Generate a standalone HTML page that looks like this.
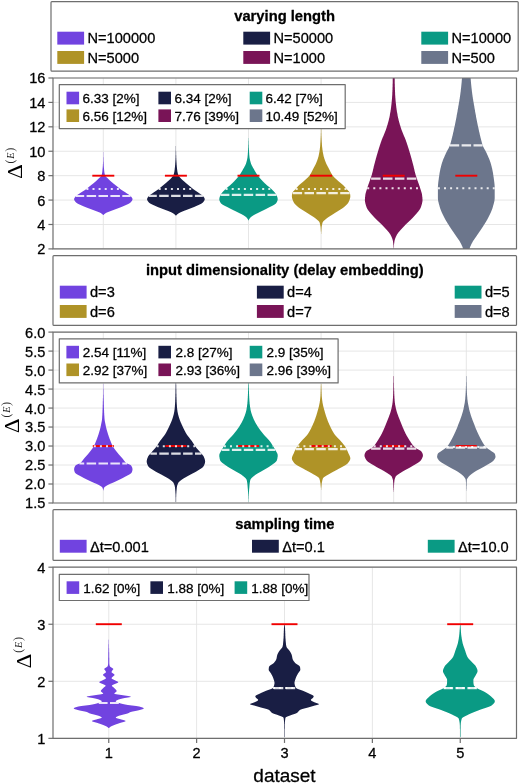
<!DOCTYPE html>
<html><head><meta charset="utf-8"><title>violin</title>
<style>html,body{margin:0;padding:0;background:#fff}svg{display:block}text{stroke:#000;stroke-width:.28px}.yl text{stroke:none}</style></head>
<body><svg width="520" height="783" viewBox="0 0 520 783" font-family='"Liberation Sans", Arial, Helvetica, sans-serif' stroke-linejoin="round">
<rect width="520" height="783" fill="#fff"/>
<defs>
<clipPath id="cp0"><rect x="53.0" y="78.0" width="463.5" height="170.9"/></clipPath>
<clipPath id="cp1"><rect x="53.0" y="332.1" width="463.5" height="170.89999999999998"/></clipPath>
<clipPath id="cp2"><rect x="53.0" y="567.2" width="463.5" height="171.14999999999998"/></clipPath>
</defs>
<rect x="51.0" y="1.6" width="467.20000000000005" height="69.60000000000001" rx="0.9" fill="#fff" stroke="#6e6e6e" stroke-width="1.2"/>
<text x="284.6" y="20.9" text-anchor="middle" font-size="14.75" font-weight="bold">varying length</text>
<rect x="57.3" y="31.7" width="26.8" height="12.9" fill="#7143E0"/>
<text x="87.5" y="43.4" font-size="14.6">N=100000</text>
<rect x="243.3" y="31.7" width="26.8" height="12.9" fill="#191E44"/>
<text x="273.5" y="43.4" font-size="14.6">N=50000</text>
<rect x="421.3" y="31.7" width="26.8" height="12.9" fill="#0A9A84"/>
<text x="451.5" y="43.4" font-size="14.6">N=10000</text>
<rect x="57.3" y="51.0" width="26.8" height="12.9" fill="#AF9327"/>
<text x="87.5" y="62.7" font-size="14.6">N=5000</text>
<rect x="243.3" y="51.0" width="26.8" height="12.9" fill="#791457"/>
<text x="273.5" y="62.7" font-size="14.6">N=1000</text>
<rect x="421.3" y="51.0" width="26.8" height="12.9" fill="#6C768C"/>
<text x="451.5" y="62.7" font-size="14.6">N=500</text>
<rect x="53.0" y="255.6" width="463.5" height="69.70000000000002" rx="0.9" fill="#fff" stroke="#6e6e6e" stroke-width="1.2"/>
<text x="284.8" y="274.9" text-anchor="middle" font-size="14.75" font-weight="bold">input dimensionality (delay embedding)</text>
<rect x="59.8" y="285.7" width="26.8" height="12.9" fill="#7143E0"/>
<text x="90.0" y="297.4" font-size="14.6">d=3</text>
<rect x="256.9" y="285.7" width="26.8" height="12.9" fill="#191E44"/>
<text x="287.1" y="297.4" font-size="14.6">d=4</text>
<rect x="454.7" y="285.7" width="26.8" height="12.9" fill="#0A9A84"/>
<text x="484.9" y="297.4" font-size="14.6">d=5</text>
<rect x="59.8" y="305.0" width="26.8" height="12.9" fill="#AF9327"/>
<text x="90.0" y="316.7" font-size="14.6">d=6</text>
<rect x="256.9" y="305.0" width="26.8" height="12.9" fill="#791457"/>
<text x="287.1" y="316.7" font-size="14.6">d=7</text>
<rect x="454.7" y="305.0" width="26.8" height="12.9" fill="#6C768C"/>
<text x="484.9" y="316.7" font-size="14.6">d=8</text>
<rect x="53.0" y="509.7" width="463.5" height="50.69999999999999" rx="0.9" fill="#fff" stroke="#6e6e6e" stroke-width="1.2"/>
<text x="284.8" y="529.0" text-anchor="middle" font-size="14.75" font-weight="bold">sampling time</text>
<rect x="59.8" y="539.8" width="26.8" height="12.9" fill="#7143E0"/>
<text x="90.0" y="551.5" font-size="14.6">Δt=0.001</text>
<rect x="252.0" y="539.8" width="26.8" height="12.9" fill="#191E44"/>
<text x="282.2" y="551.5" font-size="14.6">Δt=0.1</text>
<rect x="427.8" y="539.8" width="26.8" height="12.9" fill="#0A9A84"/>
<text x="458.0" y="551.5" font-size="14.6">Δt=10.0</text>
<line x1="103.30" y1="78.0" x2="103.30" y2="248.9" stroke="#e3e3e3" stroke-width="0.9"/>
<line x1="175.90" y1="78.0" x2="175.90" y2="248.9" stroke="#e3e3e3" stroke-width="0.9"/>
<line x1="248.50" y1="78.0" x2="248.50" y2="248.9" stroke="#e3e3e3" stroke-width="0.9"/>
<line x1="321.10" y1="78.0" x2="321.10" y2="248.9" stroke="#e3e3e3" stroke-width="0.9"/>
<line x1="393.70" y1="78.0" x2="393.70" y2="248.9" stroke="#e3e3e3" stroke-width="0.9"/>
<line x1="466.30" y1="78.0" x2="466.30" y2="248.9" stroke="#e3e3e3" stroke-width="0.9"/>
<line x1="53.0" y1="248.90" x2="516.5" y2="248.90" stroke="#e3e3e3" stroke-width="0.9"/>
<line x1="53.0" y1="224.49" x2="516.5" y2="224.49" stroke="#e3e3e3" stroke-width="0.9"/>
<line x1="53.0" y1="200.07" x2="516.5" y2="200.07" stroke="#e3e3e3" stroke-width="0.9"/>
<line x1="53.0" y1="175.66" x2="516.5" y2="175.66" stroke="#e3e3e3" stroke-width="0.9"/>
<line x1="53.0" y1="151.24" x2="516.5" y2="151.24" stroke="#e3e3e3" stroke-width="0.9"/>
<line x1="53.0" y1="126.83" x2="516.5" y2="126.83" stroke="#e3e3e3" stroke-width="0.9"/>
<line x1="53.0" y1="102.41" x2="516.5" y2="102.41" stroke="#e3e3e3" stroke-width="0.9"/>
<line x1="53.0" y1="78.00" x2="516.5" y2="78.00" stroke="#e3e3e3" stroke-width="0.9"/>
<g clip-path="url(#cp0)">
<path d="M103.2,152.0 L103.2,152.5 L103.2,153.0 L103.2,153.5 L103.2,154.0 L103.2,154.5 L103.2,155.0 L103.2,155.5 L103.2,156.0 L103.2,156.5 L103.2,157.0 L103.1,157.5 L103.1,158.0 L103.1,158.5 L103.1,159.0 L103.1,159.5 L103.1,160.0 L103.1,160.5 L103.1,161.0 L103.1,161.5 L103.0,162.0 L103.0,162.5 L103.0,163.0 L103.0,163.5 L102.9,164.0 L102.9,164.5 L102.9,165.0 L102.9,165.5 L102.8,166.0 L102.8,166.5 L102.8,167.0 L102.7,167.5 L102.7,168.0 L102.6,168.5 L102.6,169.0 L102.5,169.5 L102.5,170.0 L102.4,170.5 L102.4,171.0 L102.3,171.5 L102.3,172.0 L102.2,172.5 L102.1,173.0 L102.0,173.5 L101.9,174.0 L101.8,174.5 L101.7,175.0 L101.5,175.5 L101.2,176.0 L100.9,176.5 L100.4,177.0 L99.8,177.5 L99.2,178.0 L98.7,178.5 L98.2,179.0 L97.7,179.5 L97.2,180.0 L96.7,180.5 L96.1,181.0 L95.6,181.5 L95.0,182.0 L94.4,182.5 L93.8,183.0 L93.2,183.5 L92.6,184.0 L91.9,184.5 L91.3,185.0 L90.7,185.5 L90.0,186.0 L89.4,186.5 L88.8,187.0 L88.2,187.5 L87.6,188.0 L87.0,188.5 L86.4,189.0 L85.7,189.5 L85.0,190.0 L84.2,190.5 L83.4,191.0 L82.6,191.5 L81.8,192.0 L81.0,192.5 L80.3,193.0 L79.6,193.5 L78.8,194.0 L78.0,194.5 L77.3,195.0 L76.6,195.5 L76.1,196.0 L75.6,196.5 L75.2,197.0 L74.8,197.5 L74.5,198.0 L74.2,198.5 L74.1,199.0 L74.1,199.5 L74.3,200.0 L74.5,200.5 L74.8,201.0 L75.2,201.5 L75.6,202.0 L76.1,202.5 L76.7,203.0 L77.5,203.5 L78.4,204.0 L79.5,204.5 L80.6,205.0 L81.7,205.5 L82.9,206.0 L84.0,206.5 L85.2,207.0 L86.5,207.5 L87.8,208.0 L89.1,208.5 L90.5,209.0 L91.8,209.5 L93.1,210.0 L94.5,210.5 L95.8,211.0 L97.1,211.5 L98.4,212.0 L99.7,212.5 L100.7,213.0 L101.4,213.5 L102.1,214.0 L102.7,214.5 L103.0,215.0 L103.6,215.0 L103.9,214.5 L104.5,214.0 L105.2,213.5 L105.9,213.0 L106.9,212.5 L108.2,212.0 L109.5,211.5 L110.8,211.0 L112.1,210.5 L113.5,210.0 L114.8,209.5 L116.1,209.0 L117.5,208.5 L118.8,208.0 L120.1,207.5 L121.4,207.0 L122.6,206.5 L123.7,206.0 L124.9,205.5 L126.0,205.0 L127.1,204.5 L128.2,204.0 L129.1,203.5 L129.9,203.0 L130.5,202.5 L131.0,202.0 L131.4,201.5 L131.8,201.0 L132.1,200.5 L132.3,200.0 L132.5,199.5 L132.5,199.0 L132.4,198.5 L132.1,198.0 L131.8,197.5 L131.4,197.0 L131.0,196.5 L130.5,196.0 L130.0,195.5 L129.3,195.0 L128.6,194.5 L127.8,194.0 L127.0,193.5 L126.3,193.0 L125.6,192.5 L124.8,192.0 L124.0,191.5 L123.2,191.0 L122.4,190.5 L121.6,190.0 L120.9,189.5 L120.2,189.0 L119.6,188.5 L119.0,188.0 L118.4,187.5 L117.8,187.0 L117.2,186.5 L116.6,186.0 L115.9,185.5 L115.3,185.0 L114.7,184.5 L114.0,184.0 L113.4,183.5 L112.8,183.0 L112.2,182.5 L111.6,182.0 L111.0,181.5 L110.5,181.0 L109.9,180.5 L109.4,180.0 L108.9,179.5 L108.4,179.0 L107.9,178.5 L107.4,178.0 L106.8,177.5 L106.2,177.0 L105.7,176.5 L105.4,176.0 L105.1,175.5 L104.9,175.0 L104.8,174.5 L104.7,174.0 L104.6,173.5 L104.5,173.0 L104.4,172.5 L104.3,172.0 L104.3,171.5 L104.2,171.0 L104.2,170.5 L104.1,170.0 L104.1,169.5 L104.0,169.0 L104.0,168.5 L103.9,168.0 L103.9,167.5 L103.8,167.0 L103.8,166.5 L103.8,166.0 L103.7,165.5 L103.7,165.0 L103.7,164.5 L103.7,164.0 L103.6,163.5 L103.6,163.0 L103.6,162.5 L103.6,162.0 L103.5,161.5 L103.5,161.0 L103.5,160.5 L103.5,160.0 L103.5,159.5 L103.5,159.0 L103.5,158.5 L103.5,158.0 L103.5,157.5 L103.4,157.0 L103.4,156.5 L103.4,156.0 L103.4,155.5 L103.4,155.0 L103.4,154.5 L103.4,154.0 L103.4,153.5 L103.4,153.0 L103.4,152.5 L103.4,152.0Z" fill="#7143E0"/>
<path d="M175.8,146.0 L175.8,146.5 L175.8,147.0 L175.8,147.5 L175.8,148.0 L175.8,148.5 L175.8,149.0 L175.8,149.5 L175.8,150.0 L175.8,150.5 L175.7,151.0 L175.7,151.5 L175.7,152.0 L175.7,152.5 L175.7,153.0 L175.7,153.5 L175.7,154.0 L175.7,154.5 L175.7,155.0 L175.6,155.5 L175.6,156.0 L175.6,156.5 L175.6,157.0 L175.6,157.5 L175.6,158.0 L175.5,158.5 L175.5,159.0 L175.5,159.5 L175.5,160.0 L175.4,160.5 L175.4,161.0 L175.4,161.5 L175.3,162.0 L175.3,162.5 L175.3,163.0 L175.2,163.5 L175.2,164.0 L175.2,164.5 L175.1,165.0 L175.1,165.5 L175.0,166.0 L175.0,166.5 L175.0,167.0 L174.9,167.5 L174.8,168.0 L174.8,168.5 L174.7,169.0 L174.7,169.5 L174.6,170.0 L174.5,170.5 L174.5,171.0 L174.4,171.5 L174.3,172.0 L174.2,172.5 L174.1,173.0 L174.0,173.5 L173.8,174.0 L173.7,174.5 L173.5,175.0 L173.3,175.5 L173.0,176.0 L172.6,176.5 L172.2,177.0 L171.8,177.5 L171.3,178.0 L170.9,178.5 L170.4,179.0 L169.9,179.5 L169.3,180.0 L168.8,180.5 L168.2,181.0 L167.6,181.5 L167.0,182.0 L166.5,182.5 L165.9,183.0 L165.3,183.5 L164.7,184.0 L164.1,184.5 L163.5,185.0 L162.9,185.5 L162.3,186.0 L161.7,186.5 L161.1,187.0 L160.5,187.5 L159.9,188.0 L159.3,188.5 L158.7,189.0 L158.0,189.5 L157.3,190.0 L156.6,190.5 L155.8,191.0 L155.1,191.5 L154.3,192.0 L153.6,192.5 L152.9,193.0 L152.2,193.5 L151.4,194.0 L150.7,194.5 L150.0,195.0 L149.4,195.5 L148.9,196.0 L148.5,196.5 L148.1,197.0 L147.7,197.5 L147.4,198.0 L147.2,198.5 L147.1,199.0 L147.1,199.5 L147.2,200.0 L147.5,200.5 L147.7,201.0 L148.1,201.5 L148.5,202.0 L148.9,202.5 L149.5,203.0 L150.2,203.5 L151.1,204.0 L152.2,204.5 L153.2,205.0 L154.4,205.5 L155.5,206.0 L156.6,206.5 L157.7,207.0 L159.0,207.5 L160.3,208.0 L161.6,208.5 L162.9,209.0 L164.2,209.5 L165.5,210.0 L166.9,210.5 L168.2,211.0 L169.4,211.5 L170.6,212.0 L171.7,212.5 L172.6,213.0 L173.4,213.5 L174.1,214.0 L174.7,214.5 L175.2,215.0 L175.6,215.5 L176.2,215.5 L176.6,215.0 L177.1,214.5 L177.7,214.0 L178.4,213.5 L179.2,213.0 L180.1,212.5 L181.2,212.0 L182.4,211.5 L183.6,211.0 L184.9,210.5 L186.3,210.0 L187.6,209.5 L188.9,209.0 L190.2,208.5 L191.5,208.0 L192.8,207.5 L194.1,207.0 L195.2,206.5 L196.3,206.0 L197.4,205.5 L198.6,205.0 L199.6,204.5 L200.7,204.0 L201.6,203.5 L202.3,203.0 L202.9,202.5 L203.3,202.0 L203.7,201.5 L204.1,201.0 L204.3,200.5 L204.6,200.0 L204.7,199.5 L204.7,199.0 L204.6,198.5 L204.4,198.0 L204.1,197.5 L203.7,197.0 L203.3,196.5 L202.9,196.0 L202.4,195.5 L201.8,195.0 L201.1,194.5 L200.4,194.0 L199.6,193.5 L198.9,193.0 L198.2,192.5 L197.5,192.0 L196.7,191.5 L196.0,191.0 L195.2,190.5 L194.5,190.0 L193.8,189.5 L193.1,189.0 L192.5,188.5 L191.9,188.0 L191.3,187.5 L190.7,187.0 L190.1,186.5 L189.5,186.0 L188.9,185.5 L188.3,185.0 L187.7,184.5 L187.1,184.0 L186.5,183.5 L185.9,183.0 L185.3,182.5 L184.8,182.0 L184.2,181.5 L183.6,181.0 L183.0,180.5 L182.5,180.0 L181.9,179.5 L181.4,179.0 L180.9,178.5 L180.5,178.0 L180.0,177.5 L179.6,177.0 L179.2,176.5 L178.8,176.0 L178.5,175.5 L178.3,175.0 L178.1,174.5 L178.0,174.0 L177.8,173.5 L177.7,173.0 L177.6,172.5 L177.5,172.0 L177.4,171.5 L177.3,171.0 L177.3,170.5 L177.2,170.0 L177.1,169.5 L177.1,169.0 L177.0,168.5 L177.0,168.0 L176.9,167.5 L176.8,167.0 L176.8,166.5 L176.8,166.0 L176.7,165.5 L176.7,165.0 L176.6,164.5 L176.6,164.0 L176.6,163.5 L176.5,163.0 L176.5,162.5 L176.5,162.0 L176.4,161.5 L176.4,161.0 L176.4,160.5 L176.3,160.0 L176.3,159.5 L176.3,159.0 L176.3,158.5 L176.2,158.0 L176.2,157.5 L176.2,157.0 L176.2,156.5 L176.2,156.0 L176.2,155.5 L176.1,155.0 L176.1,154.5 L176.1,154.0 L176.1,153.5 L176.1,153.0 L176.1,152.5 L176.1,152.0 L176.1,151.5 L176.1,151.0 L176.0,150.5 L176.0,150.0 L176.0,149.5 L176.0,149.0 L176.0,148.5 L176.0,148.0 L176.0,147.5 L176.0,147.0 L176.0,146.5 L176.0,146.0Z" fill="#191E44"/>
<path d="M248.4,138.0 L248.4,138.5 L248.4,139.0 L248.4,139.5 L248.4,140.0 L248.4,140.5 L248.3,141.0 L248.3,141.5 L248.3,142.0 L248.3,142.5 L248.3,143.0 L248.3,143.5 L248.3,144.0 L248.3,144.5 L248.2,145.0 L248.2,145.5 L248.2,146.0 L248.2,146.5 L248.2,147.0 L248.2,147.5 L248.1,148.0 L248.1,148.5 L248.1,149.0 L248.1,149.5 L248.0,150.0 L248.0,150.5 L248.0,151.0 L248.0,151.5 L247.9,152.0 L247.9,152.5 L247.9,153.0 L247.8,153.5 L247.8,154.0 L247.8,154.5 L247.7,155.0 L247.7,155.5 L247.6,156.0 L247.6,156.5 L247.5,157.0 L247.5,157.5 L247.4,158.0 L247.3,158.5 L247.2,159.0 L247.1,159.5 L247.0,160.0 L246.9,160.5 L246.7,161.0 L246.6,161.5 L246.5,162.0 L246.3,162.5 L246.2,163.0 L246.0,163.5 L245.9,164.0 L245.6,164.5 L245.4,165.0 L245.2,165.5 L244.9,166.0 L244.6,166.5 L244.4,167.0 L244.1,167.5 L243.8,168.0 L243.5,168.5 L243.2,169.0 L242.9,169.5 L242.7,170.0 L242.4,170.5 L242.1,171.0 L241.8,171.5 L241.5,172.0 L241.2,172.5 L240.9,173.0 L240.6,173.5 L240.3,174.0 L239.9,174.5 L239.6,175.0 L239.2,175.5 L238.9,176.0 L238.5,176.5 L238.1,177.0 L237.6,177.5 L237.2,178.0 L236.8,178.5 L236.3,179.0 L235.9,179.5 L235.4,180.0 L234.9,180.5 L234.5,181.0 L234.0,181.5 L233.5,182.0 L233.0,182.5 L232.5,183.0 L232.0,183.5 L231.4,184.0 L230.9,184.5 L230.4,185.0 L229.8,185.5 L229.2,186.0 L228.5,186.5 L227.9,187.0 L227.3,187.5 L226.7,188.0 L226.1,188.5 L225.6,189.0 L225.1,189.5 L224.6,190.0 L224.1,190.5 L223.6,191.0 L223.1,191.5 L222.7,192.0 L222.2,192.5 L221.8,193.0 L221.4,193.5 L221.1,194.0 L220.8,194.5 L220.6,195.0 L220.4,195.5 L220.2,196.0 L219.9,196.5 L219.7,197.0 L219.6,197.5 L219.4,198.0 L219.4,198.5 L219.3,199.0 L219.3,199.5 L219.4,200.0 L219.5,200.5 L219.7,201.0 L219.9,201.5 L220.2,202.0 L220.4,202.5 L220.7,203.0 L221.1,203.5 L221.7,204.0 L222.4,204.5 L223.2,205.0 L224.1,205.5 L225.1,206.0 L226.1,206.5 L227.2,207.0 L228.1,207.5 L229.1,208.0 L230.0,208.5 L231.0,209.0 L232.0,209.5 L233.0,210.0 L234.0,210.5 L235.1,211.0 L236.1,211.5 L237.1,212.0 L238.1,212.5 L239.1,213.0 L240.1,213.5 L241.2,214.0 L242.1,214.5 L243.0,215.0 L243.9,215.5 L244.6,216.0 L245.3,216.5 L246.0,217.0 L246.5,217.5 L247.0,218.0 L247.3,218.5 L247.7,219.0 L248.0,219.5 L248.2,220.0 L248.4,220.5 L248.6,220.5 L248.8,220.0 L249.0,219.5 L249.3,219.0 L249.7,218.5 L250.0,218.0 L250.5,217.5 L251.0,217.0 L251.7,216.5 L252.4,216.0 L253.1,215.5 L254.0,215.0 L254.9,214.5 L255.8,214.0 L256.9,213.5 L257.9,213.0 L258.9,212.5 L259.9,212.0 L260.9,211.5 L261.9,211.0 L263.0,210.5 L264.0,210.0 L265.0,209.5 L266.0,209.0 L267.0,208.5 L267.9,208.0 L268.9,207.5 L269.8,207.0 L270.9,206.5 L271.9,206.0 L272.9,205.5 L273.8,205.0 L274.6,204.5 L275.3,204.0 L275.9,203.5 L276.3,203.0 L276.6,202.5 L276.8,202.0 L277.1,201.5 L277.3,201.0 L277.5,200.5 L277.6,200.0 L277.7,199.5 L277.7,199.0 L277.6,198.5 L277.6,198.0 L277.4,197.5 L277.3,197.0 L277.1,196.5 L276.8,196.0 L276.6,195.5 L276.4,195.0 L276.2,194.5 L275.9,194.0 L275.6,193.5 L275.2,193.0 L274.8,192.5 L274.3,192.0 L273.9,191.5 L273.4,191.0 L272.9,190.5 L272.4,190.0 L271.9,189.5 L271.4,189.0 L270.9,188.5 L270.3,188.0 L269.7,187.5 L269.1,187.0 L268.5,186.5 L267.8,186.0 L267.2,185.5 L266.6,185.0 L266.1,184.5 L265.6,184.0 L265.0,183.5 L264.5,183.0 L264.0,182.5 L263.5,182.0 L263.0,181.5 L262.5,181.0 L262.1,180.5 L261.6,180.0 L261.1,179.5 L260.7,179.0 L260.2,178.5 L259.8,178.0 L259.4,177.5 L258.9,177.0 L258.5,176.5 L258.1,176.0 L257.8,175.5 L257.4,175.0 L257.1,174.5 L256.7,174.0 L256.4,173.5 L256.1,173.0 L255.8,172.5 L255.5,172.0 L255.2,171.5 L254.9,171.0 L254.6,170.5 L254.3,170.0 L254.1,169.5 L253.8,169.0 L253.5,168.5 L253.2,168.0 L252.9,167.5 L252.6,167.0 L252.4,166.5 L252.1,166.0 L251.8,165.5 L251.6,165.0 L251.4,164.5 L251.1,164.0 L251.0,163.5 L250.8,163.0 L250.7,162.5 L250.5,162.0 L250.4,161.5 L250.3,161.0 L250.1,160.5 L250.0,160.0 L249.9,159.5 L249.8,159.0 L249.7,158.5 L249.6,158.0 L249.5,157.5 L249.5,157.0 L249.4,156.5 L249.4,156.0 L249.3,155.5 L249.3,155.0 L249.2,154.5 L249.2,154.0 L249.2,153.5 L249.1,153.0 L249.1,152.5 L249.1,152.0 L249.0,151.5 L249.0,151.0 L249.0,150.5 L249.0,150.0 L248.9,149.5 L248.9,149.0 L248.9,148.5 L248.9,148.0 L248.8,147.5 L248.8,147.0 L248.8,146.5 L248.8,146.0 L248.8,145.5 L248.8,145.0 L248.7,144.5 L248.7,144.0 L248.7,143.5 L248.7,143.0 L248.7,142.5 L248.7,142.0 L248.7,141.5 L248.7,141.0 L248.6,140.5 L248.6,140.0 L248.6,139.5 L248.6,139.0 L248.6,138.5 L248.6,138.0Z" fill="#0A9A84"/>
<path d="M321.0,126.0 L321.0,126.5 L321.0,127.0 L321.0,127.5 L321.0,128.0 L321.0,128.5 L321.0,129.0 L320.9,129.5 L320.9,130.0 L320.9,130.5 L320.9,131.0 L320.9,131.5 L320.9,132.0 L320.9,132.5 L320.9,133.0 L320.8,133.5 L320.8,134.0 L320.8,134.5 L320.8,135.0 L320.8,135.5 L320.8,136.0 L320.7,136.5 L320.7,137.0 L320.7,137.5 L320.7,138.0 L320.6,138.5 L320.6,139.0 L320.6,139.5 L320.6,140.0 L320.5,140.5 L320.5,141.0 L320.5,141.5 L320.4,142.0 L320.4,142.5 L320.4,143.0 L320.3,143.5 L320.3,144.0 L320.3,144.5 L320.2,145.0 L320.2,145.5 L320.2,146.0 L320.1,146.5 L320.1,147.0 L320.0,147.5 L319.9,148.0 L319.9,148.5 L319.8,149.0 L319.8,149.5 L319.7,150.0 L319.6,150.5 L319.5,151.0 L319.5,151.5 L319.4,152.0 L319.3,152.5 L319.2,153.0 L319.1,153.5 L319.0,154.0 L318.9,154.5 L318.8,155.0 L318.7,155.5 L318.6,156.0 L318.5,156.5 L318.3,157.0 L318.2,157.5 L318.0,158.0 L317.9,158.5 L317.7,159.0 L317.5,159.5 L317.4,160.0 L317.2,160.5 L317.0,161.0 L316.8,161.5 L316.6,162.0 L316.4,162.5 L316.2,163.0 L316.0,163.5 L315.8,164.0 L315.5,164.5 L315.3,165.0 L315.0,165.5 L314.7,166.0 L314.5,166.5 L314.2,167.0 L313.9,167.5 L313.7,168.0 L313.4,168.5 L313.1,169.0 L312.9,169.5 L312.6,170.0 L312.4,170.5 L312.1,171.0 L311.9,171.5 L311.6,172.0 L311.4,172.5 L311.1,173.0 L310.8,173.5 L310.5,174.0 L310.2,174.5 L309.9,175.0 L309.5,175.5 L309.1,176.0 L308.7,176.5 L308.3,177.0 L307.8,177.5 L307.3,178.0 L306.7,178.5 L306.2,179.0 L305.6,179.5 L305.1,180.0 L304.5,180.5 L304.0,181.0 L303.4,181.5 L302.8,182.0 L302.2,182.5 L301.6,183.0 L301.0,183.5 L300.4,184.0 L299.8,184.5 L299.2,185.0 L298.7,185.5 L298.2,186.0 L297.8,186.5 L297.3,187.0 L296.9,187.5 L296.5,188.0 L296.0,188.5 L295.6,189.0 L295.2,189.5 L294.7,190.0 L294.2,190.5 L293.7,191.0 L293.2,191.5 L292.8,192.0 L292.5,192.5 L292.3,193.0 L292.2,193.5 L292.1,194.0 L292.0,194.5 L292.0,195.0 L291.9,195.5 L291.9,196.0 L291.9,196.5 L291.9,197.0 L292.0,197.5 L292.1,198.0 L292.2,198.5 L292.4,199.0 L292.5,199.5 L292.7,200.0 L292.9,200.5 L293.1,201.0 L293.3,201.5 L293.6,202.0 L293.8,202.5 L294.1,203.0 L294.5,203.5 L294.9,204.0 L295.4,204.5 L295.9,205.0 L296.4,205.5 L297.0,206.0 L297.5,206.5 L298.1,207.0 L298.7,207.5 L299.4,208.0 L300.1,208.5 L300.9,209.0 L301.7,209.5 L302.5,210.0 L303.3,210.5 L304.1,211.0 L304.9,211.5 L305.7,212.0 L306.5,212.5 L307.3,213.0 L308.1,213.5 L308.8,214.0 L309.6,214.5 L310.4,215.0 L311.2,215.5 L312.0,216.0 L312.8,216.5 L313.6,217.0 L314.3,217.5 L315.0,218.0 L315.6,218.5 L316.3,219.0 L316.8,219.5 L317.4,220.0 L318.0,220.5 L318.6,221.0 L319.0,221.5 L319.4,222.0 L319.6,222.5 L319.7,223.0 L319.9,223.5 L320.0,224.0 L320.1,224.5 L320.2,225.0 L320.3,225.5 L320.4,226.0 L320.5,226.5 L320.6,227.0 L320.6,227.5 L320.7,228.0 L320.7,228.5 L320.7,229.0 L320.8,229.5 L320.8,230.0 L320.8,230.5 L320.9,231.0 L320.9,231.5 L320.9,232.0 L321.0,232.5 L321.0,233.0 L321.0,233.5 L321.0,234.0 L321.2,234.0 L321.2,233.5 L321.2,233.0 L321.2,232.5 L321.3,232.0 L321.3,231.5 L321.3,231.0 L321.4,230.5 L321.4,230.0 L321.4,229.5 L321.5,229.0 L321.5,228.5 L321.5,228.0 L321.6,227.5 L321.6,227.0 L321.7,226.5 L321.8,226.0 L321.9,225.5 L322.0,225.0 L322.1,224.5 L322.2,224.0 L322.3,223.5 L322.5,223.0 L322.6,222.5 L322.8,222.0 L323.2,221.5 L323.6,221.0 L324.2,220.5 L324.8,220.0 L325.4,219.5 L325.9,219.0 L326.6,218.5 L327.2,218.0 L327.9,217.5 L328.6,217.0 L329.4,216.5 L330.2,216.0 L331.0,215.5 L331.8,215.0 L332.6,214.5 L333.4,214.0 L334.1,213.5 L334.9,213.0 L335.7,212.5 L336.5,212.0 L337.3,211.5 L338.1,211.0 L338.9,210.5 L339.7,210.0 L340.5,209.5 L341.3,209.0 L342.1,208.5 L342.8,208.0 L343.5,207.5 L344.1,207.0 L344.7,206.5 L345.2,206.0 L345.8,205.5 L346.3,205.0 L346.8,204.5 L347.3,204.0 L347.7,203.5 L348.1,203.0 L348.4,202.5 L348.6,202.0 L348.9,201.5 L349.1,201.0 L349.3,200.5 L349.5,200.0 L349.7,199.5 L349.8,199.0 L350.0,198.5 L350.1,198.0 L350.2,197.5 L350.3,197.0 L350.3,196.5 L350.3,196.0 L350.3,195.5 L350.2,195.0 L350.2,194.5 L350.1,194.0 L350.0,193.5 L349.9,193.0 L349.7,192.5 L349.4,192.0 L349.0,191.5 L348.5,191.0 L348.0,190.5 L347.5,190.0 L347.0,189.5 L346.6,189.0 L346.2,188.5 L345.7,188.0 L345.3,187.5 L344.9,187.0 L344.4,186.5 L344.0,186.0 L343.5,185.5 L343.0,185.0 L342.4,184.5 L341.8,184.0 L341.2,183.5 L340.6,183.0 L340.0,182.5 L339.4,182.0 L338.8,181.5 L338.2,181.0 L337.7,180.5 L337.1,180.0 L336.6,179.5 L336.0,179.0 L335.5,178.5 L334.9,178.0 L334.4,177.5 L333.9,177.0 L333.5,176.5 L333.1,176.0 L332.7,175.5 L332.3,175.0 L332.0,174.5 L331.7,174.0 L331.4,173.5 L331.1,173.0 L330.8,172.5 L330.6,172.0 L330.3,171.5 L330.1,171.0 L329.8,170.5 L329.6,170.0 L329.3,169.5 L329.1,169.0 L328.8,168.5 L328.5,168.0 L328.3,167.5 L328.0,167.0 L327.7,166.5 L327.5,166.0 L327.2,165.5 L326.9,165.0 L326.7,164.5 L326.4,164.0 L326.2,163.5 L326.0,163.0 L325.8,162.5 L325.6,162.0 L325.4,161.5 L325.2,161.0 L325.0,160.5 L324.8,160.0 L324.7,159.5 L324.5,159.0 L324.3,158.5 L324.2,158.0 L324.0,157.5 L323.9,157.0 L323.7,156.5 L323.6,156.0 L323.5,155.5 L323.4,155.0 L323.3,154.5 L323.2,154.0 L323.1,153.5 L323.0,153.0 L322.9,152.5 L322.8,152.0 L322.7,151.5 L322.7,151.0 L322.6,150.5 L322.5,150.0 L322.4,149.5 L322.4,149.0 L322.3,148.5 L322.3,148.0 L322.2,147.5 L322.1,147.0 L322.1,146.5 L322.0,146.0 L322.0,145.5 L322.0,145.0 L321.9,144.5 L321.9,144.0 L321.9,143.5 L321.8,143.0 L321.8,142.5 L321.8,142.0 L321.7,141.5 L321.7,141.0 L321.7,140.5 L321.6,140.0 L321.6,139.5 L321.6,139.0 L321.6,138.5 L321.5,138.0 L321.5,137.5 L321.5,137.0 L321.5,136.5 L321.4,136.0 L321.4,135.5 L321.4,135.0 L321.4,134.5 L321.4,134.0 L321.4,133.5 L321.3,133.0 L321.3,132.5 L321.3,132.0 L321.3,131.5 L321.3,131.0 L321.3,130.5 L321.3,130.0 L321.3,129.5 L321.2,129.0 L321.2,128.5 L321.2,128.0 L321.2,127.5 L321.2,127.0 L321.2,126.5 L321.2,126.0Z" fill="#AF9327"/>
<path d="M392.8,70.0 L392.8,70.5 L392.8,71.0 L392.8,71.5 L392.8,72.0 L392.8,72.5 L392.8,73.0 L392.8,73.5 L392.8,74.0 L392.8,74.5 L392.8,75.0 L392.8,75.5 L392.8,76.0 L392.8,76.5 L392.8,77.0 L392.8,77.5 L392.8,78.0 L392.7,78.5 L392.7,79.0 L392.7,79.5 L392.7,80.0 L392.7,80.5 L392.7,81.0 L392.7,81.5 L392.7,82.0 L392.7,82.5 L392.7,83.0 L392.7,83.5 L392.6,84.0 L392.6,84.5 L392.6,85.0 L392.6,85.5 L392.6,86.0 L392.6,86.5 L392.6,87.0 L392.5,87.5 L392.5,88.0 L392.5,88.5 L392.5,89.0 L392.5,89.5 L392.5,90.0 L392.4,90.5 L392.4,91.0 L392.4,91.5 L392.4,92.0 L392.3,92.5 L392.3,93.0 L392.3,93.5 L392.3,94.0 L392.3,94.5 L392.2,95.0 L392.2,95.5 L392.2,96.0 L392.1,96.5 L392.1,97.0 L392.1,97.5 L392.0,98.0 L392.0,98.5 L391.9,99.0 L391.9,99.5 L391.9,100.0 L391.8,100.5 L391.8,101.0 L391.7,101.5 L391.7,102.0 L391.6,102.5 L391.6,103.0 L391.5,103.5 L391.5,104.0 L391.4,104.5 L391.4,105.0 L391.3,105.5 L391.2,106.0 L391.2,106.5 L391.1,107.0 L391.1,107.5 L391.0,108.0 L390.9,108.5 L390.9,109.0 L390.8,109.5 L390.7,110.0 L390.6,110.5 L390.6,111.0 L390.5,111.5 L390.4,112.0 L390.3,112.5 L390.2,113.0 L390.1,113.5 L390.0,114.0 L389.9,114.5 L389.9,115.0 L389.8,115.5 L389.7,116.0 L389.6,116.5 L389.5,117.0 L389.4,117.5 L389.3,118.0 L389.1,118.5 L389.0,119.0 L388.9,119.5 L388.8,120.0 L388.7,120.5 L388.5,121.0 L388.4,121.5 L388.3,122.0 L388.1,122.5 L388.0,123.0 L387.8,123.5 L387.7,124.0 L387.6,124.5 L387.4,125.0 L387.2,125.5 L387.1,126.0 L386.9,126.5 L386.8,127.0 L386.6,127.5 L386.5,128.0 L386.3,128.5 L386.1,129.0 L386.0,129.5 L385.8,130.0 L385.6,130.5 L385.4,131.0 L385.2,131.5 L385.0,132.0 L384.8,132.5 L384.6,133.0 L384.4,133.5 L384.2,134.0 L384.0,134.5 L383.8,135.0 L383.6,135.5 L383.4,136.0 L383.2,136.5 L382.9,137.0 L382.7,137.5 L382.5,138.0 L382.3,138.5 L382.1,139.0 L381.9,139.5 L381.7,140.0 L381.5,140.5 L381.4,141.0 L381.2,141.5 L381.0,142.0 L380.8,142.5 L380.7,143.0 L380.5,143.5 L380.3,144.0 L380.2,144.5 L380.0,145.0 L379.8,145.5 L379.7,146.0 L379.5,146.5 L379.4,147.0 L379.2,147.5 L379.0,148.0 L378.9,148.5 L378.7,149.0 L378.6,149.5 L378.4,150.0 L378.3,150.5 L378.1,151.0 L378.0,151.5 L377.8,152.0 L377.7,152.5 L377.5,153.0 L377.4,153.5 L377.2,154.0 L377.1,154.5 L376.9,155.0 L376.8,155.5 L376.6,156.0 L376.5,156.5 L376.4,157.0 L376.2,157.5 L376.1,158.0 L375.9,158.5 L375.8,159.0 L375.7,159.5 L375.5,160.0 L375.4,160.5 L375.3,161.0 L375.1,161.5 L375.0,162.0 L374.9,162.5 L374.7,163.0 L374.6,163.5 L374.5,164.0 L374.3,164.5 L374.2,165.0 L374.1,165.5 L373.9,166.0 L373.8,166.5 L373.7,167.0 L373.6,167.5 L373.5,168.0 L373.4,168.5 L373.2,169.0 L373.1,169.5 L373.0,170.0 L372.9,170.5 L372.8,171.0 L372.7,171.5 L372.5,172.0 L372.4,172.5 L372.3,173.0 L372.1,173.5 L372.0,174.0 L371.9,174.5 L371.7,175.0 L371.6,175.5 L371.4,176.0 L371.2,176.5 L371.1,177.0 L370.9,177.5 L370.7,178.0 L370.6,178.5 L370.4,179.0 L370.2,179.5 L370.1,180.0 L369.9,180.5 L369.7,181.0 L369.5,181.5 L369.3,182.0 L369.2,182.5 L369.0,183.0 L368.8,183.5 L368.6,184.0 L368.4,184.5 L368.3,185.0 L368.1,185.5 L367.9,186.0 L367.7,186.5 L367.6,187.0 L367.4,187.5 L367.3,188.0 L367.1,188.5 L367.0,189.0 L366.8,189.5 L366.6,190.0 L366.5,190.5 L366.3,191.0 L366.2,191.5 L366.0,192.0 L365.9,192.5 L365.7,193.0 L365.6,193.5 L365.5,194.0 L365.4,194.5 L365.3,195.0 L365.3,195.5 L365.2,196.0 L365.2,196.5 L365.1,197.0 L365.0,197.5 L365.0,198.0 L365.0,198.5 L364.9,199.0 L364.9,199.5 L364.9,200.0 L364.9,200.5 L364.9,201.0 L365.0,201.5 L365.1,202.0 L365.2,202.5 L365.3,203.0 L365.4,203.5 L365.5,204.0 L365.7,204.5 L365.8,205.0 L366.0,205.5 L366.1,206.0 L366.3,206.5 L366.5,207.0 L366.6,207.5 L366.9,208.0 L367.1,208.5 L367.4,209.0 L367.7,209.5 L368.0,210.0 L368.4,210.5 L368.8,211.0 L369.1,211.5 L369.6,212.0 L370.0,212.5 L370.4,213.0 L370.8,213.5 L371.3,214.0 L371.7,214.5 L372.2,215.0 L372.6,215.5 L373.1,216.0 L373.5,216.5 L374.0,217.0 L374.4,217.5 L374.9,218.0 L375.4,218.5 L375.9,219.0 L376.4,219.5 L376.9,220.0 L377.4,220.5 L378.0,221.0 L378.5,221.5 L379.0,222.0 L379.6,222.5 L380.1,223.0 L380.6,223.5 L381.2,224.0 L381.7,224.5 L382.2,225.0 L382.6,225.5 L383.1,226.0 L383.6,226.5 L384.0,227.0 L384.5,227.5 L385.0,228.0 L385.4,228.5 L385.9,229.0 L386.4,229.5 L386.8,230.0 L387.3,230.5 L387.7,231.0 L388.1,231.5 L388.6,232.0 L389.0,232.5 L389.3,233.0 L389.7,233.5 L390.0,234.0 L390.4,234.5 L390.6,235.0 L390.9,235.5 L391.1,236.0 L391.4,236.5 L391.6,237.0 L391.8,237.5 L392.0,238.0 L392.2,238.5 L392.4,239.0 L392.5,239.5 L392.7,240.0 L392.8,240.5 L392.9,241.0 L393.0,241.5 L393.1,242.0 L393.1,242.5 L393.2,243.0 L393.3,243.5 L393.3,244.0 L393.4,244.5 L393.4,245.0 L393.5,245.5 L393.5,246.0 L393.5,246.5 L393.5,247.0 L393.6,247.5 L393.6,248.0 L393.6,248.5 L393.6,249.0 L393.8,249.0 L393.8,248.5 L393.8,248.0 L393.8,247.5 L393.9,247.0 L393.9,246.5 L393.9,246.0 L393.9,245.5 L394.0,245.0 L394.0,244.5 L394.1,244.0 L394.1,243.5 L394.2,243.0 L394.3,242.5 L394.3,242.0 L394.4,241.5 L394.5,241.0 L394.6,240.5 L394.7,240.0 L394.9,239.5 L395.0,239.0 L395.2,238.5 L395.4,238.0 L395.6,237.5 L395.8,237.0 L396.0,236.5 L396.3,236.0 L396.5,235.5 L396.8,235.0 L397.0,234.5 L397.4,234.0 L397.7,233.5 L398.1,233.0 L398.4,232.5 L398.8,232.0 L399.3,231.5 L399.7,231.0 L400.1,230.5 L400.6,230.0 L401.0,229.5 L401.5,229.0 L402.0,228.5 L402.4,228.0 L402.9,227.5 L403.4,227.0 L403.8,226.5 L404.3,226.0 L404.8,225.5 L405.2,225.0 L405.7,224.5 L406.2,224.0 L406.8,223.5 L407.3,223.0 L407.8,222.5 L408.4,222.0 L408.9,221.5 L409.4,221.0 L410.0,220.5 L410.5,220.0 L411.0,219.5 L411.5,219.0 L412.0,218.5 L412.5,218.0 L413.0,217.5 L413.4,217.0 L413.9,216.5 L414.3,216.0 L414.8,215.5 L415.2,215.0 L415.7,214.5 L416.1,214.0 L416.6,213.5 L417.0,213.0 L417.4,212.5 L417.8,212.0 L418.3,211.5 L418.6,211.0 L419.0,210.5 L419.4,210.0 L419.7,209.5 L420.0,209.0 L420.3,208.5 L420.5,208.0 L420.8,207.5 L420.9,207.0 L421.1,206.5 L421.3,206.0 L421.4,205.5 L421.6,205.0 L421.7,204.5 L421.9,204.0 L422.0,203.5 L422.1,203.0 L422.2,202.5 L422.3,202.0 L422.4,201.5 L422.5,201.0 L422.5,200.5 L422.5,200.0 L422.5,199.5 L422.5,199.0 L422.4,198.5 L422.4,198.0 L422.4,197.5 L422.3,197.0 L422.2,196.5 L422.2,196.0 L422.1,195.5 L422.1,195.0 L422.0,194.5 L421.9,194.0 L421.8,193.5 L421.7,193.0 L421.5,192.5 L421.4,192.0 L421.2,191.5 L421.1,191.0 L420.9,190.5 L420.8,190.0 L420.6,189.5 L420.4,189.0 L420.3,188.5 L420.1,188.0 L420.0,187.5 L419.8,187.0 L419.7,186.5 L419.5,186.0 L419.3,185.5 L419.1,185.0 L419.0,184.5 L418.8,184.0 L418.6,183.5 L418.4,183.0 L418.2,182.5 L418.1,182.0 L417.9,181.5 L417.7,181.0 L417.5,180.5 L417.3,180.0 L417.2,179.5 L417.0,179.0 L416.8,178.5 L416.7,178.0 L416.5,177.5 L416.3,177.0 L416.2,176.5 L416.0,176.0 L415.8,175.5 L415.7,175.0 L415.5,174.5 L415.4,174.0 L415.3,173.5 L415.1,173.0 L415.0,172.5 L414.9,172.0 L414.7,171.5 L414.6,171.0 L414.5,170.5 L414.4,170.0 L414.3,169.5 L414.2,169.0 L414.0,168.5 L413.9,168.0 L413.8,167.5 L413.7,167.0 L413.6,166.5 L413.5,166.0 L413.3,165.5 L413.2,165.0 L413.1,164.5 L412.9,164.0 L412.8,163.5 L412.7,163.0 L412.5,162.5 L412.4,162.0 L412.3,161.5 L412.1,161.0 L412.0,160.5 L411.9,160.0 L411.7,159.5 L411.6,159.0 L411.5,158.5 L411.3,158.0 L411.2,157.5 L411.0,157.0 L410.9,156.5 L410.8,156.0 L410.6,155.5 L410.5,155.0 L410.3,154.5 L410.2,154.0 L410.0,153.5 L409.9,153.0 L409.7,152.5 L409.6,152.0 L409.4,151.5 L409.3,151.0 L409.1,150.5 L409.0,150.0 L408.8,149.5 L408.7,149.0 L408.5,148.5 L408.4,148.0 L408.2,147.5 L408.0,147.0 L407.9,146.5 L407.7,146.0 L407.6,145.5 L407.4,145.0 L407.2,144.5 L407.1,144.0 L406.9,143.5 L406.7,143.0 L406.6,142.5 L406.4,142.0 L406.2,141.5 L406.0,141.0 L405.9,140.5 L405.7,140.0 L405.5,139.5 L405.3,139.0 L405.1,138.5 L404.9,138.0 L404.7,137.5 L404.5,137.0 L404.2,136.5 L404.0,136.0 L403.8,135.5 L403.6,135.0 L403.4,134.5 L403.2,134.0 L403.0,133.5 L402.8,133.0 L402.6,132.5 L402.4,132.0 L402.2,131.5 L402.0,131.0 L401.8,130.5 L401.6,130.0 L401.4,129.5 L401.3,129.0 L401.1,128.5 L400.9,128.0 L400.8,127.5 L400.6,127.0 L400.5,126.5 L400.3,126.0 L400.2,125.5 L400.0,125.0 L399.8,124.5 L399.7,124.0 L399.6,123.5 L399.4,123.0 L399.3,122.5 L399.1,122.0 L399.0,121.5 L398.9,121.0 L398.7,120.5 L398.6,120.0 L398.5,119.5 L398.4,119.0 L398.3,118.5 L398.1,118.0 L398.0,117.5 L397.9,117.0 L397.8,116.5 L397.7,116.0 L397.6,115.5 L397.5,115.0 L397.5,114.5 L397.4,114.0 L397.3,113.5 L397.2,113.0 L397.1,112.5 L397.0,112.0 L396.9,111.5 L396.8,111.0 L396.8,110.5 L396.7,110.0 L396.6,109.5 L396.5,109.0 L396.5,108.5 L396.4,108.0 L396.3,107.5 L396.3,107.0 L396.2,106.5 L396.2,106.0 L396.1,105.5 L396.0,105.0 L396.0,104.5 L395.9,104.0 L395.9,103.5 L395.8,103.0 L395.8,102.5 L395.7,102.0 L395.7,101.5 L395.6,101.0 L395.6,100.5 L395.5,100.0 L395.5,99.5 L395.5,99.0 L395.4,98.5 L395.4,98.0 L395.3,97.5 L395.3,97.0 L395.3,96.5 L395.2,96.0 L395.2,95.5 L395.2,95.0 L395.1,94.5 L395.1,94.0 L395.1,93.5 L395.1,93.0 L395.1,92.5 L395.0,92.0 L395.0,91.5 L395.0,91.0 L395.0,90.5 L394.9,90.0 L394.9,89.5 L394.9,89.0 L394.9,88.5 L394.9,88.0 L394.9,87.5 L394.8,87.0 L394.8,86.5 L394.8,86.0 L394.8,85.5 L394.8,85.0 L394.8,84.5 L394.8,84.0 L394.7,83.5 L394.7,83.0 L394.7,82.5 L394.7,82.0 L394.7,81.5 L394.7,81.0 L394.7,80.5 L394.7,80.0 L394.7,79.5 L394.7,79.0 L394.7,78.5 L394.6,78.0 L394.6,77.5 L394.6,77.0 L394.6,76.5 L394.6,76.0 L394.6,75.5 L394.6,75.0 L394.6,74.5 L394.6,74.0 L394.6,73.5 L394.6,73.0 L394.6,72.5 L394.6,72.0 L394.6,71.5 L394.6,71.0 L394.6,70.5 L394.6,70.0Z" fill="#791457"/>
<path d="M462.7,70.0 L462.7,70.5 L462.6,71.0 L462.6,71.5 L462.5,72.0 L462.5,72.5 L462.5,73.0 L462.4,73.5 L462.4,74.0 L462.3,74.5 L462.3,75.0 L462.3,75.5 L462.2,76.0 L462.2,76.5 L462.1,77.0 L462.1,77.5 L462.0,78.0 L462.0,78.5 L461.9,79.0 L461.9,79.5 L461.8,80.0 L461.8,80.5 L461.7,81.0 L461.7,81.5 L461.7,82.0 L461.6,82.5 L461.6,83.0 L461.5,83.5 L461.5,84.0 L461.4,84.5 L461.4,85.0 L461.3,85.5 L461.3,86.0 L461.2,86.5 L461.2,87.0 L461.1,87.5 L461.1,88.0 L461.0,88.5 L460.9,89.0 L460.9,89.5 L460.8,90.0 L460.8,90.5 L460.7,91.0 L460.7,91.5 L460.6,92.0 L460.5,92.5 L460.5,93.0 L460.4,93.5 L460.3,94.0 L460.3,94.5 L460.2,95.0 L460.1,95.5 L460.1,96.0 L460.0,96.5 L459.9,97.0 L459.8,97.5 L459.8,98.0 L459.7,98.5 L459.6,99.0 L459.5,99.5 L459.4,100.0 L459.4,100.5 L459.3,101.0 L459.2,101.5 L459.1,102.0 L459.0,102.5 L458.9,103.0 L458.8,103.5 L458.8,104.0 L458.7,104.5 L458.6,105.0 L458.5,105.5 L458.4,106.0 L458.3,106.5 L458.2,107.0 L458.2,107.5 L458.1,108.0 L458.0,108.5 L457.9,109.0 L457.8,109.5 L457.7,110.0 L457.6,110.5 L457.6,111.0 L457.5,111.5 L457.4,112.0 L457.3,112.5 L457.2,113.0 L457.1,113.5 L457.0,114.0 L456.9,114.5 L456.8,115.0 L456.7,115.5 L456.6,116.0 L456.6,116.5 L456.5,117.0 L456.4,117.5 L456.3,118.0 L456.2,118.5 L456.1,119.0 L456.0,119.5 L455.9,120.0 L455.8,120.5 L455.7,121.0 L455.6,121.5 L455.5,122.0 L455.4,122.5 L455.3,123.0 L455.2,123.5 L455.1,124.0 L455.0,124.5 L454.9,125.0 L454.8,125.5 L454.7,126.0 L454.6,126.5 L454.5,127.0 L454.3,127.5 L454.2,128.0 L454.1,128.5 L454.0,129.0 L453.9,129.5 L453.8,130.0 L453.7,130.5 L453.6,131.0 L453.5,131.5 L453.4,132.0 L453.2,132.5 L453.1,133.0 L453.0,133.5 L452.9,134.0 L452.8,134.5 L452.7,135.0 L452.6,135.5 L452.4,136.0 L452.3,136.5 L452.2,137.0 L452.1,137.5 L451.9,138.0 L451.8,138.5 L451.7,139.0 L451.6,139.5 L451.4,140.0 L451.3,140.5 L451.2,141.0 L451.0,141.5 L450.9,142.0 L450.8,142.5 L450.6,143.0 L450.5,143.5 L450.4,144.0 L450.2,144.5 L450.0,145.0 L449.9,145.5 L449.7,146.0 L449.5,146.5 L449.2,147.0 L449.0,147.5 L448.7,148.0 L448.5,148.5 L448.2,149.0 L447.9,149.5 L447.6,150.0 L447.3,150.5 L447.1,151.0 L446.8,151.5 L446.5,152.0 L446.3,152.5 L446.1,153.0 L445.8,153.5 L445.6,154.0 L445.4,154.5 L445.2,155.0 L444.9,155.5 L444.7,156.0 L444.5,156.5 L444.3,157.0 L444.1,157.5 L443.8,158.0 L443.6,158.5 L443.4,159.0 L443.2,159.5 L443.0,160.0 L442.8,160.5 L442.7,161.0 L442.5,161.5 L442.3,162.0 L442.1,162.5 L442.0,163.0 L441.8,163.5 L441.7,164.0 L441.5,164.5 L441.4,165.0 L441.3,165.5 L441.1,166.0 L441.0,166.5 L440.9,167.0 L440.8,167.5 L440.6,168.0 L440.5,168.5 L440.4,169.0 L440.3,169.5 L440.2,170.0 L440.1,170.5 L440.0,171.0 L439.9,171.5 L439.8,172.0 L439.7,172.5 L439.6,173.0 L439.5,173.5 L439.5,174.0 L439.4,174.5 L439.3,175.0 L439.2,175.5 L439.2,176.0 L439.1,176.5 L439.0,177.0 L438.9,177.5 L438.9,178.0 L438.8,178.5 L438.7,179.0 L438.7,179.5 L438.6,180.0 L438.5,180.5 L438.5,181.0 L438.4,181.5 L438.3,182.0 L438.3,182.5 L438.2,183.0 L438.2,183.5 L438.1,184.0 L438.1,184.5 L438.0,185.0 L438.0,185.5 L438.0,186.0 L437.9,186.5 L437.9,187.0 L437.9,187.5 L437.9,188.0 L437.9,188.5 L437.9,189.0 L437.9,189.5 L437.9,190.0 L437.9,190.5 L437.9,191.0 L437.9,191.5 L437.9,192.0 L437.9,192.5 L437.9,193.0 L437.9,193.5 L437.9,194.0 L437.9,194.5 L437.9,195.0 L437.9,195.5 L437.9,196.0 L437.9,196.5 L437.9,197.0 L437.9,197.5 L437.9,198.0 L437.9,198.5 L438.0,199.0 L438.0,199.5 L438.1,200.0 L438.1,200.5 L438.2,201.0 L438.3,201.5 L438.4,202.0 L438.6,202.5 L438.7,203.0 L438.8,203.5 L438.9,204.0 L439.1,204.5 L439.2,205.0 L439.4,205.5 L439.5,206.0 L439.6,206.5 L439.8,207.0 L439.9,207.5 L440.1,208.0 L440.2,208.5 L440.4,209.0 L440.6,209.5 L440.8,210.0 L441.0,210.5 L441.2,211.0 L441.4,211.5 L441.6,212.0 L441.8,212.5 L442.1,213.0 L442.3,213.5 L442.5,214.0 L442.8,214.5 L443.0,215.0 L443.3,215.5 L443.5,216.0 L443.8,216.5 L444.0,217.0 L444.3,217.5 L444.5,218.0 L444.8,218.5 L445.1,219.0 L445.3,219.5 L445.6,220.0 L445.9,220.5 L446.2,221.0 L446.5,221.5 L446.8,222.0 L447.1,222.5 L447.4,223.0 L447.7,223.5 L448.0,224.0 L448.4,224.5 L448.7,225.0 L449.0,225.5 L449.3,226.0 L449.6,226.5 L449.9,227.0 L450.3,227.5 L450.6,228.0 L450.9,228.5 L451.3,229.0 L451.6,229.5 L451.9,230.0 L452.3,230.5 L452.6,231.0 L453.0,231.5 L453.3,232.0 L453.7,232.5 L454.0,233.0 L454.3,233.5 L454.7,234.0 L455.0,234.5 L455.4,235.0 L455.7,235.5 L456.0,236.0 L456.4,236.5 L456.7,237.0 L457.1,237.5 L457.4,238.0 L457.8,238.5 L458.1,239.0 L458.5,239.5 L458.8,240.0 L459.2,240.5 L459.5,241.0 L459.8,241.5 L460.1,242.0 L460.3,242.5 L460.6,243.0 L460.9,243.5 L461.1,244.0 L461.4,244.5 L461.6,245.0 L461.8,245.5 L462.1,246.0 L462.3,246.5 L462.5,247.0 L462.7,247.5 L462.8,248.0 L463.0,248.5 L463.2,249.0 L463.3,249.5 L463.5,250.0 L463.6,250.5 L463.7,251.0 L463.9,251.5 L464.0,252.0 L464.1,252.5 L464.3,253.0 L464.4,253.5 L464.5,254.0 L464.6,254.5 L464.7,255.0 L464.7,255.5 L464.8,256.0 L467.8,256.0 L467.9,255.5 L467.9,255.0 L468.0,254.5 L468.1,254.0 L468.2,253.5 L468.3,253.0 L468.5,252.5 L468.6,252.0 L468.7,251.5 L468.9,251.0 L469.0,250.5 L469.1,250.0 L469.3,249.5 L469.4,249.0 L469.6,248.5 L469.8,248.0 L469.9,247.5 L470.1,247.0 L470.3,246.5 L470.5,246.0 L470.8,245.5 L471.0,245.0 L471.2,244.5 L471.5,244.0 L471.7,243.5 L472.0,243.0 L472.3,242.5 L472.5,242.0 L472.8,241.5 L473.1,241.0 L473.4,240.5 L473.8,240.0 L474.1,239.5 L474.5,239.0 L474.8,238.5 L475.2,238.0 L475.5,237.5 L475.9,237.0 L476.2,236.5 L476.6,236.0 L476.9,235.5 L477.2,235.0 L477.6,234.5 L477.9,234.0 L478.3,233.5 L478.6,233.0 L478.9,232.5 L479.3,232.0 L479.6,231.5 L480.0,231.0 L480.3,230.5 L480.7,230.0 L481.0,229.5 L481.3,229.0 L481.7,228.5 L482.0,228.0 L482.3,227.5 L482.7,227.0 L483.0,226.5 L483.3,226.0 L483.6,225.5 L483.9,225.0 L484.2,224.5 L484.6,224.0 L484.9,223.5 L485.2,223.0 L485.5,222.5 L485.8,222.0 L486.1,221.5 L486.4,221.0 L486.7,220.5 L487.0,220.0 L487.3,219.5 L487.5,219.0 L487.8,218.5 L488.1,218.0 L488.3,217.5 L488.6,217.0 L488.8,216.5 L489.1,216.0 L489.3,215.5 L489.6,215.0 L489.8,214.5 L490.1,214.0 L490.3,213.5 L490.5,213.0 L490.8,212.5 L491.0,212.0 L491.2,211.5 L491.4,211.0 L491.6,210.5 L491.8,210.0 L492.0,209.5 L492.2,209.0 L492.4,208.5 L492.5,208.0 L492.7,207.5 L492.8,207.0 L493.0,206.5 L493.1,206.0 L493.2,205.5 L493.4,205.0 L493.5,204.5 L493.7,204.0 L493.8,203.5 L493.9,203.0 L494.0,202.5 L494.2,202.0 L494.3,201.5 L494.4,201.0 L494.5,200.5 L494.5,200.0 L494.6,199.5 L494.6,199.0 L494.7,198.5 L494.7,198.0 L494.7,197.5 L494.7,197.0 L494.7,196.5 L494.7,196.0 L494.7,195.5 L494.7,195.0 L494.7,194.5 L494.7,194.0 L494.7,193.5 L494.7,193.0 L494.7,192.5 L494.7,192.0 L494.7,191.5 L494.7,191.0 L494.7,190.5 L494.7,190.0 L494.7,189.5 L494.7,189.0 L494.7,188.5 L494.7,188.0 L494.7,187.5 L494.7,187.0 L494.7,186.5 L494.6,186.0 L494.6,185.5 L494.6,185.0 L494.5,184.5 L494.5,184.0 L494.4,183.5 L494.4,183.0 L494.3,182.5 L494.3,182.0 L494.2,181.5 L494.1,181.0 L494.1,180.5 L494.0,180.0 L493.9,179.5 L493.9,179.0 L493.8,178.5 L493.7,178.0 L493.7,177.5 L493.6,177.0 L493.5,176.5 L493.4,176.0 L493.4,175.5 L493.3,175.0 L493.2,174.5 L493.1,174.0 L493.1,173.5 L493.0,173.0 L492.9,172.5 L492.8,172.0 L492.7,171.5 L492.6,171.0 L492.5,170.5 L492.4,170.0 L492.3,169.5 L492.2,169.0 L492.1,168.5 L492.0,168.0 L491.8,167.5 L491.7,167.0 L491.6,166.5 L491.5,166.0 L491.3,165.5 L491.2,165.0 L491.1,164.5 L490.9,164.0 L490.8,163.5 L490.6,163.0 L490.5,162.5 L490.3,162.0 L490.1,161.5 L489.9,161.0 L489.8,160.5 L489.6,160.0 L489.4,159.5 L489.2,159.0 L489.0,158.5 L488.8,158.0 L488.5,157.5 L488.3,157.0 L488.1,156.5 L487.9,156.0 L487.7,155.5 L487.4,155.0 L487.2,154.5 L487.0,154.0 L486.8,153.5 L486.5,153.0 L486.3,152.5 L486.1,152.0 L485.8,151.5 L485.5,151.0 L485.3,150.5 L485.0,150.0 L484.7,149.5 L484.4,149.0 L484.1,148.5 L483.9,148.0 L483.6,147.5 L483.4,147.0 L483.1,146.5 L482.9,146.0 L482.7,145.5 L482.6,145.0 L482.4,144.5 L482.2,144.0 L482.1,143.5 L482.0,143.0 L481.8,142.5 L481.7,142.0 L481.6,141.5 L481.4,141.0 L481.3,140.5 L481.2,140.0 L481.0,139.5 L480.9,139.0 L480.8,138.5 L480.7,138.0 L480.5,137.5 L480.4,137.0 L480.3,136.5 L480.2,136.0 L480.0,135.5 L479.9,135.0 L479.8,134.5 L479.7,134.0 L479.6,133.5 L479.5,133.0 L479.4,132.5 L479.2,132.0 L479.1,131.5 L479.0,131.0 L478.9,130.5 L478.8,130.0 L478.7,129.5 L478.6,129.0 L478.5,128.5 L478.4,128.0 L478.3,127.5 L478.1,127.0 L478.0,126.5 L477.9,126.0 L477.8,125.5 L477.7,125.0 L477.6,124.5 L477.5,124.0 L477.4,123.5 L477.3,123.0 L477.2,122.5 L477.1,122.0 L477.0,121.5 L476.9,121.0 L476.8,120.5 L476.7,120.0 L476.6,119.5 L476.5,119.0 L476.4,118.5 L476.3,118.0 L476.2,117.5 L476.1,117.0 L476.0,116.5 L476.0,116.0 L475.9,115.5 L475.8,115.0 L475.7,114.5 L475.6,114.0 L475.5,113.5 L475.4,113.0 L475.3,112.5 L475.2,112.0 L475.1,111.5 L475.0,111.0 L475.0,110.5 L474.9,110.0 L474.8,109.5 L474.7,109.0 L474.6,108.5 L474.5,108.0 L474.4,107.5 L474.4,107.0 L474.3,106.5 L474.2,106.0 L474.1,105.5 L474.0,105.0 L473.9,104.5 L473.8,104.0 L473.8,103.5 L473.7,103.0 L473.6,102.5 L473.5,102.0 L473.4,101.5 L473.3,101.0 L473.2,100.5 L473.2,100.0 L473.1,99.5 L473.0,99.0 L472.9,98.5 L472.8,98.0 L472.8,97.5 L472.7,97.0 L472.6,96.5 L472.5,96.0 L472.5,95.5 L472.4,95.0 L472.3,94.5 L472.3,94.0 L472.2,93.5 L472.1,93.0 L472.1,92.5 L472.0,92.0 L471.9,91.5 L471.9,91.0 L471.8,90.5 L471.8,90.0 L471.7,89.5 L471.7,89.0 L471.6,88.5 L471.5,88.0 L471.5,87.5 L471.4,87.0 L471.4,86.5 L471.3,86.0 L471.3,85.5 L471.2,85.0 L471.2,84.5 L471.1,84.0 L471.1,83.5 L471.0,83.0 L471.0,82.5 L470.9,82.0 L470.9,81.5 L470.9,81.0 L470.8,80.5 L470.8,80.0 L470.7,79.5 L470.7,79.0 L470.6,78.5 L470.6,78.0 L470.5,77.5 L470.5,77.0 L470.4,76.5 L470.4,76.0 L470.3,75.5 L470.3,75.0 L470.3,74.5 L470.2,74.0 L470.2,73.5 L470.1,73.0 L470.1,72.5 L470.1,72.0 L470.0,71.5 L470.0,71.0 L469.9,70.5 L469.9,70.0Z" fill="#6C768C"/>
</g>
<line x1="92.3" y1="175.7" x2="114.3" y2="175.7" stroke="#f00000" stroke-width="1.9"/><line x1="76.0" y1="196.0" x2="130.6" y2="196.0" stroke="#fff" stroke-opacity="0.85" stroke-width="2.2" stroke-dasharray="9.5 2.4" stroke-dashoffset="1.3"/><line x1="86.4" y1="189.0" x2="120.2" y2="189.0" stroke="#fff" stroke-opacity="0.85" stroke-width="2" stroke-dasharray="2 4.1"/><line x1="164.9" y1="175.7" x2="186.9" y2="175.7" stroke="#f00000" stroke-width="1.9"/><line x1="148.9" y1="195.9" x2="202.9" y2="195.9" stroke="#fff" stroke-opacity="0.85" stroke-width="2.2" stroke-dasharray="9.5 2.4" stroke-dashoffset="1.6"/><line x1="158.7" y1="189.0" x2="193.1" y2="189.0" stroke="#fff" stroke-opacity="0.85" stroke-width="2" stroke-dasharray="2 4.1"/><line x1="237.5" y1="175.7" x2="259.5" y2="175.7" stroke="#f00000" stroke-width="1.9"/><line x1="220.6" y1="194.9" x2="276.4" y2="194.9" stroke="#fff" stroke-opacity="0.85" stroke-width="2.2" stroke-dasharray="9.5 2.4" stroke-dashoffset="0.7"/><line x1="225.6" y1="189.0" x2="271.4" y2="189.0" stroke="#fff" stroke-opacity="0.85" stroke-width="2" stroke-dasharray="2 4.1"/><line x1="310.1" y1="175.7" x2="332.1" y2="175.7" stroke="#f00000" stroke-width="1.9"/><line x1="292.3" y1="193.2" x2="349.9" y2="193.2" stroke="#fff" stroke-opacity="0.85" stroke-width="2.2" stroke-dasharray="9.5 2.4" stroke-dashoffset="-0.3"/><line x1="295.7" y1="188.9" x2="346.5" y2="188.9" stroke="#fff" stroke-opacity="0.85" stroke-width="2" stroke-dasharray="2 4.1"/><line x1="382.7" y1="175.7" x2="404.7" y2="175.7" stroke="#f00000" stroke-width="1.9"/><line x1="370.5" y1="178.6" x2="416.9" y2="178.6" stroke="#fff" stroke-opacity="0.85" stroke-width="2.2" stroke-dasharray="9.5 2.4" stroke-dashoffset="-0.6"/><line x1="367.2" y1="188.2" x2="420.2" y2="188.2" stroke="#fff" stroke-opacity="0.85" stroke-width="2" stroke-dasharray="2 4.1"/><line x1="455.3" y1="175.7" x2="477.3" y2="175.7" stroke="#f00000" stroke-width="1.9"/><line x1="450.0" y1="145.3" x2="482.6" y2="145.3" stroke="#fff" stroke-opacity="0.85" stroke-width="2.2" stroke-dasharray="9.5 2.4" stroke-dashoffset="0.3"/><line x1="437.9" y1="188.2" x2="494.7" y2="188.2" stroke="#fff" stroke-opacity="0.85" stroke-width="2" stroke-dasharray="2 4.1"/>
<rect x="53.0" y="78.0" width="463.5" height="170.9" fill="none" stroke="#6e6e6e" stroke-width="1.2"/>
<line x1="48.4" y1="248.90" x2="53.0" y2="248.90" stroke="#6e6e6e" stroke-width="1.2"/>
<text x="45.4" y="254.3" text-anchor="end" font-size="14.6">2</text>
<line x1="48.4" y1="224.49" x2="53.0" y2="224.49" stroke="#6e6e6e" stroke-width="1.2"/>
<text x="45.4" y="229.9" text-anchor="end" font-size="14.6">4</text>
<line x1="48.4" y1="200.07" x2="53.0" y2="200.07" stroke="#6e6e6e" stroke-width="1.2"/>
<text x="45.4" y="205.5" text-anchor="end" font-size="14.6">6</text>
<line x1="48.4" y1="175.66" x2="53.0" y2="175.66" stroke="#6e6e6e" stroke-width="1.2"/>
<text x="45.4" y="181.1" text-anchor="end" font-size="14.6">8</text>
<line x1="48.4" y1="151.24" x2="53.0" y2="151.24" stroke="#6e6e6e" stroke-width="1.2"/>
<text x="45.4" y="156.6" text-anchor="end" font-size="14.6">10</text>
<line x1="48.4" y1="126.83" x2="53.0" y2="126.83" stroke="#6e6e6e" stroke-width="1.2"/>
<text x="45.4" y="132.2" text-anchor="end" font-size="14.6">12</text>
<line x1="48.4" y1="102.41" x2="53.0" y2="102.41" stroke="#6e6e6e" stroke-width="1.2"/>
<text x="45.4" y="107.8" text-anchor="end" font-size="14.6">14</text>
<line x1="48.4" y1="78.00" x2="53.0" y2="78.00" stroke="#6e6e6e" stroke-width="1.2"/>
<text x="45.4" y="83.4" text-anchor="end" font-size="14.6">16</text>
<g class="yl" transform="translate(22.3,179.0) rotate(-90)" font-family='"Liberation Serif","DejaVu Serif",serif'><text x="0" y="0" transform="scale(1.12,1)" font-size="20.5">Δ</text><text x="15.6" y="-8.8" font-size="11.5" fill="#222" letter-spacing="0.9">(<tspan font-style="italic" font-size="10.3">E</tspan>)</text></g>
<line x1="103.30" y1="332.1" x2="103.30" y2="503.0" stroke="#e3e3e3" stroke-width="0.9"/>
<line x1="175.90" y1="332.1" x2="175.90" y2="503.0" stroke="#e3e3e3" stroke-width="0.9"/>
<line x1="248.50" y1="332.1" x2="248.50" y2="503.0" stroke="#e3e3e3" stroke-width="0.9"/>
<line x1="321.10" y1="332.1" x2="321.10" y2="503.0" stroke="#e3e3e3" stroke-width="0.9"/>
<line x1="393.70" y1="332.1" x2="393.70" y2="503.0" stroke="#e3e3e3" stroke-width="0.9"/>
<line x1="466.30" y1="332.1" x2="466.30" y2="503.0" stroke="#e3e3e3" stroke-width="0.9"/>
<line x1="53.0" y1="503.00" x2="516.5" y2="503.00" stroke="#e3e3e3" stroke-width="0.9"/>
<line x1="53.0" y1="484.01" x2="516.5" y2="484.01" stroke="#e3e3e3" stroke-width="0.9"/>
<line x1="53.0" y1="465.02" x2="516.5" y2="465.02" stroke="#e3e3e3" stroke-width="0.9"/>
<line x1="53.0" y1="446.03" x2="516.5" y2="446.03" stroke="#e3e3e3" stroke-width="0.9"/>
<line x1="53.0" y1="427.04" x2="516.5" y2="427.04" stroke="#e3e3e3" stroke-width="0.9"/>
<line x1="53.0" y1="408.06" x2="516.5" y2="408.06" stroke="#e3e3e3" stroke-width="0.9"/>
<line x1="53.0" y1="389.07" x2="516.5" y2="389.07" stroke="#e3e3e3" stroke-width="0.9"/>
<line x1="53.0" y1="370.08" x2="516.5" y2="370.08" stroke="#e3e3e3" stroke-width="0.9"/>
<line x1="53.0" y1="351.09" x2="516.5" y2="351.09" stroke="#e3e3e3" stroke-width="0.9"/>
<line x1="53.0" y1="332.10" x2="516.5" y2="332.10" stroke="#e3e3e3" stroke-width="0.9"/>
<g clip-path="url(#cp1)">
<path d="M103.2,384.0 L103.2,384.5 L103.2,385.0 L103.2,385.5 L103.2,386.0 L103.2,386.5 L103.2,387.0 L103.2,387.5 L103.2,388.0 L103.2,388.5 L103.1,389.0 L103.1,389.5 L103.1,390.0 L103.1,390.5 L103.1,391.0 L103.1,391.5 L103.1,392.0 L103.1,392.5 L103.1,393.0 L103.1,393.5 L103.1,394.0 L103.1,394.5 L103.0,395.0 L103.0,395.5 L103.0,396.0 L103.0,396.5 L103.0,397.0 L103.0,397.5 L103.0,398.0 L102.9,398.5 L102.9,399.0 L102.9,399.5 L102.9,400.0 L102.9,400.5 L102.9,401.0 L102.8,401.5 L102.8,402.0 L102.8,402.5 L102.8,403.0 L102.8,403.5 L102.8,404.0 L102.8,404.5 L102.7,405.0 L102.7,405.5 L102.7,406.0 L102.7,406.5 L102.7,407.0 L102.7,407.5 L102.6,408.0 L102.6,408.5 L102.6,409.0 L102.6,409.5 L102.6,410.0 L102.5,410.5 L102.5,411.0 L102.5,411.5 L102.5,412.0 L102.5,412.5 L102.4,413.0 L102.4,413.5 L102.4,414.0 L102.4,414.5 L102.3,415.0 L102.3,415.5 L102.3,416.0 L102.2,416.5 L102.2,417.0 L102.2,417.5 L102.1,418.0 L102.1,418.5 L102.1,419.0 L102.0,419.5 L101.9,420.0 L101.9,420.5 L101.8,421.0 L101.7,421.5 L101.6,422.0 L101.5,422.5 L101.4,423.0 L101.3,423.5 L101.2,424.0 L101.1,424.5 L101.0,425.0 L100.9,425.5 L100.8,426.0 L100.7,426.5 L100.6,427.0 L100.5,427.5 L100.3,428.0 L100.2,428.5 L100.1,429.0 L100.0,429.5 L99.8,430.0 L99.7,430.5 L99.5,431.0 L99.4,431.5 L99.2,432.0 L99.1,432.5 L98.9,433.0 L98.8,433.5 L98.6,434.0 L98.5,434.5 L98.3,435.0 L98.1,435.5 L98.0,436.0 L97.8,436.5 L97.6,437.0 L97.4,437.5 L97.3,438.0 L97.1,438.5 L96.9,439.0 L96.7,439.5 L96.5,440.0 L96.3,440.5 L96.1,441.0 L95.9,441.5 L95.7,442.0 L95.5,442.5 L95.3,443.0 L95.1,443.5 L94.9,444.0 L94.6,444.5 L94.4,445.0 L94.2,445.5 L93.9,446.0 L93.6,446.5 L93.3,447.0 L93.0,447.5 L92.7,448.0 L92.4,448.5 L92.0,449.0 L91.6,449.5 L91.3,450.0 L90.9,450.5 L90.5,451.0 L90.1,451.5 L89.7,452.0 L89.3,452.5 L88.9,453.0 L88.5,453.5 L88.1,454.0 L87.7,454.5 L87.2,455.0 L86.8,455.5 L86.3,456.0 L85.9,456.5 L85.4,457.0 L85.0,457.5 L84.5,458.0 L84.1,458.5 L83.7,459.0 L83.3,459.5 L83.0,460.0 L82.6,460.5 L82.2,461.0 L81.8,461.5 L81.4,462.0 L80.9,462.5 L80.3,463.0 L79.4,463.5 L78.3,464.0 L77.1,464.5 L76.1,465.0 L75.5,465.5 L75.2,466.0 L74.9,466.5 L74.7,467.0 L74.4,467.5 L74.3,468.0 L74.2,468.5 L74.1,469.0 L74.1,469.5 L74.2,470.0 L74.2,470.5 L74.4,471.0 L74.5,471.5 L74.7,472.0 L74.9,472.5 L75.3,473.0 L75.8,473.5 L76.5,474.0 L77.3,474.5 L78.2,475.0 L79.2,475.5 L80.1,476.0 L81.1,476.5 L82.0,477.0 L82.9,477.5 L83.8,478.0 L84.8,478.5 L85.8,479.0 L86.8,479.5 L87.9,480.0 L88.9,480.5 L90.0,481.0 L91.0,481.5 L92.1,482.0 L93.2,482.5 L94.4,483.0 L95.6,483.5 L96.8,484.0 L97.8,484.5 L98.8,485.0 L99.7,485.5 L100.5,486.0 L101.3,486.5 L101.9,487.0 L102.4,487.5 L102.6,488.0 L102.8,488.5 L102.9,489.0 L103.1,489.5 L103.1,490.0 L103.2,490.5 L103.4,490.5 L103.5,490.0 L103.5,489.5 L103.7,489.0 L103.8,488.5 L104.0,488.0 L104.2,487.5 L104.7,487.0 L105.3,486.5 L106.1,486.0 L106.9,485.5 L107.8,485.0 L108.8,484.5 L109.8,484.0 L111.0,483.5 L112.2,483.0 L113.4,482.5 L114.5,482.0 L115.6,481.5 L116.6,481.0 L117.7,480.5 L118.7,480.0 L119.8,479.5 L120.8,479.0 L121.8,478.5 L122.8,478.0 L123.7,477.5 L124.6,477.0 L125.5,476.5 L126.5,476.0 L127.4,475.5 L128.4,475.0 L129.3,474.5 L130.1,474.0 L130.8,473.5 L131.3,473.0 L131.7,472.5 L131.9,472.0 L132.1,471.5 L132.2,471.0 L132.4,470.5 L132.4,470.0 L132.5,469.5 L132.5,469.0 L132.4,468.5 L132.3,468.0 L132.2,467.5 L131.9,467.0 L131.7,466.5 L131.4,466.0 L131.1,465.5 L130.5,465.0 L129.5,464.5 L128.3,464.0 L127.2,463.5 L126.3,463.0 L125.7,462.5 L125.2,462.0 L124.8,461.5 L124.4,461.0 L124.0,460.5 L123.6,460.0 L123.3,459.5 L122.9,459.0 L122.5,458.5 L122.1,458.0 L121.6,457.5 L121.2,457.0 L120.7,456.5 L120.3,456.0 L119.8,455.5 L119.4,455.0 L118.9,454.5 L118.5,454.0 L118.1,453.5 L117.7,453.0 L117.3,452.5 L116.9,452.0 L116.5,451.5 L116.1,451.0 L115.7,450.5 L115.3,450.0 L115.0,449.5 L114.6,449.0 L114.2,448.5 L113.9,448.0 L113.6,447.5 L113.3,447.0 L113.0,446.5 L112.7,446.0 L112.4,445.5 L112.2,445.0 L112.0,444.5 L111.7,444.0 L111.5,443.5 L111.3,443.0 L111.1,442.5 L110.9,442.0 L110.7,441.5 L110.5,441.0 L110.3,440.5 L110.1,440.0 L109.9,439.5 L109.7,439.0 L109.5,438.5 L109.3,438.0 L109.2,437.5 L109.0,437.0 L108.8,436.5 L108.6,436.0 L108.5,435.5 L108.3,435.0 L108.1,434.5 L108.0,434.0 L107.8,433.5 L107.7,433.0 L107.5,432.5 L107.4,432.0 L107.2,431.5 L107.1,431.0 L106.9,430.5 L106.8,430.0 L106.6,429.5 L106.5,429.0 L106.4,428.5 L106.3,428.0 L106.1,427.5 L106.0,427.0 L105.9,426.5 L105.8,426.0 L105.7,425.5 L105.6,425.0 L105.5,424.5 L105.4,424.0 L105.3,423.5 L105.2,423.0 L105.1,422.5 L105.0,422.0 L104.9,421.5 L104.8,421.0 L104.7,420.5 L104.7,420.0 L104.6,419.5 L104.5,419.0 L104.5,418.5 L104.5,418.0 L104.4,417.5 L104.4,417.0 L104.4,416.5 L104.3,416.0 L104.3,415.5 L104.3,415.0 L104.2,414.5 L104.2,414.0 L104.2,413.5 L104.2,413.0 L104.1,412.5 L104.1,412.0 L104.1,411.5 L104.1,411.0 L104.1,410.5 L104.0,410.0 L104.0,409.5 L104.0,409.0 L104.0,408.5 L104.0,408.0 L103.9,407.5 L103.9,407.0 L103.9,406.5 L103.9,406.0 L103.9,405.5 L103.9,405.0 L103.8,404.5 L103.8,404.0 L103.8,403.5 L103.8,403.0 L103.8,402.5 L103.8,402.0 L103.8,401.5 L103.7,401.0 L103.7,400.5 L103.7,400.0 L103.7,399.5 L103.7,399.0 L103.7,398.5 L103.6,398.0 L103.6,397.5 L103.6,397.0 L103.6,396.5 L103.6,396.0 L103.6,395.5 L103.6,395.0 L103.5,394.5 L103.5,394.0 L103.5,393.5 L103.5,393.0 L103.5,392.5 L103.5,392.0 L103.5,391.5 L103.5,391.0 L103.5,390.5 L103.5,390.0 L103.5,389.5 L103.5,389.0 L103.4,388.5 L103.4,388.0 L103.4,387.5 L103.4,387.0 L103.4,386.5 L103.4,386.0 L103.4,385.5 L103.4,385.0 L103.4,384.5 L103.4,384.0Z" fill="#7143E0"/>
<path d="M175.7,382.0 L175.7,382.5 L175.7,383.0 L175.7,383.5 L175.7,384.0 L175.7,384.5 L175.6,385.0 L175.6,385.5 L175.6,386.0 L175.6,386.5 L175.6,387.0 L175.6,387.5 L175.6,388.0 L175.6,388.5 L175.5,389.0 L175.5,389.5 L175.5,390.0 L175.5,390.5 L175.5,391.0 L175.5,391.5 L175.5,392.0 L175.5,392.5 L175.5,393.0 L175.5,393.5 L175.4,394.0 L175.4,394.5 L175.4,395.0 L175.4,395.5 L175.4,396.0 L175.4,396.5 L175.4,397.0 L175.3,397.5 L175.3,398.0 L175.3,398.5 L175.3,399.0 L175.3,399.5 L175.2,400.0 L175.2,400.5 L175.2,401.0 L175.2,401.5 L175.2,402.0 L175.1,402.5 L175.1,403.0 L175.1,403.5 L175.0,404.0 L175.0,404.5 L175.0,405.0 L174.9,405.5 L174.9,406.0 L174.9,406.5 L174.8,407.0 L174.8,407.5 L174.7,408.0 L174.7,408.5 L174.6,409.0 L174.6,409.5 L174.5,410.0 L174.4,410.5 L174.4,411.0 L174.3,411.5 L174.2,412.0 L174.1,412.5 L174.0,413.0 L173.9,413.5 L173.8,414.0 L173.7,414.5 L173.5,415.0 L173.4,415.5 L173.3,416.0 L173.1,416.5 L173.0,417.0 L172.8,417.5 L172.7,418.0 L172.5,418.5 L172.3,419.0 L172.2,419.5 L172.0,420.0 L171.8,420.5 L171.6,421.0 L171.4,421.5 L171.2,422.0 L171.0,422.5 L170.8,423.0 L170.5,423.5 L170.3,424.0 L170.1,424.5 L169.9,425.0 L169.6,425.5 L169.4,426.0 L169.2,426.5 L168.9,427.0 L168.7,427.5 L168.5,428.0 L168.2,428.5 L168.0,429.0 L167.7,429.5 L167.5,430.0 L167.2,430.5 L167.0,431.0 L166.7,431.5 L166.4,432.0 L166.2,432.5 L165.9,433.0 L165.6,433.5 L165.3,434.0 L165.0,434.5 L164.6,435.0 L164.3,435.5 L163.9,436.0 L163.5,436.5 L163.1,437.0 L162.7,437.5 L162.3,438.0 L162.0,438.5 L161.6,439.0 L161.2,439.5 L160.8,440.0 L160.4,440.5 L160.0,441.0 L159.7,441.5 L159.4,442.0 L159.0,442.5 L158.7,443.0 L158.4,443.5 L158.1,444.0 L157.8,444.5 L157.5,445.0 L157.2,445.5 L156.8,446.0 L156.5,446.5 L156.1,447.0 L155.7,447.5 L155.3,448.0 L154.9,448.5 L154.4,449.0 L154.0,449.5 L153.5,450.0 L153.1,450.5 L152.6,451.0 L152.2,451.5 L151.8,452.0 L151.3,452.5 L150.9,453.0 L150.5,453.5 L150.1,454.0 L149.6,454.5 L149.2,455.0 L148.8,455.5 L148.4,456.0 L148.1,456.5 L147.9,457.0 L147.7,457.5 L147.5,458.0 L147.3,458.5 L147.1,459.0 L147.0,459.5 L146.9,460.0 L146.8,460.5 L146.7,461.0 L146.7,461.5 L146.7,462.0 L146.8,462.5 L146.9,463.0 L147.0,463.5 L147.2,464.0 L147.4,464.5 L147.6,465.0 L147.8,465.5 L148.1,466.0 L148.4,466.5 L148.8,467.0 L149.3,467.5 L150.0,468.0 L150.7,468.5 L151.5,469.0 L152.3,469.5 L153.1,470.0 L153.9,470.5 L154.7,471.0 L155.5,471.5 L156.4,472.0 L157.3,472.5 L158.3,473.0 L159.3,473.5 L160.2,474.0 L161.2,474.5 L162.1,475.0 L163.0,475.5 L163.9,476.0 L164.8,476.5 L165.7,477.0 L166.6,477.5 L167.5,478.0 L168.3,478.5 L169.1,479.0 L169.8,479.5 L170.5,480.0 L171.1,480.5 L171.8,481.0 L172.3,481.5 L172.9,482.0 L173.3,482.5 L173.6,483.0 L173.8,483.5 L174.0,484.0 L174.2,484.5 L174.4,485.0 L174.6,485.5 L174.7,486.0 L174.8,486.5 L174.9,487.0 L175.0,487.5 L175.0,488.0 L175.1,488.5 L175.1,489.0 L175.2,489.5 L175.2,490.0 L175.3,490.5 L175.3,491.0 L175.4,491.5 L175.4,492.0 L175.4,492.5 L175.5,493.0 L175.5,493.5 L175.5,494.0 L175.6,494.5 L175.6,495.0 L175.6,495.5 L175.6,496.0 L175.6,496.5 L175.6,497.0 L175.7,497.5 L175.7,498.0 L175.7,498.5 L175.7,499.0 L175.7,499.5 L175.7,500.0 L175.7,500.5 L175.7,501.0 L175.7,501.5 L175.7,502.0 L176.0,502.0 L176.1,501.5 L176.1,501.0 L176.1,500.5 L176.1,500.0 L176.1,499.5 L176.1,499.0 L176.1,498.5 L176.1,498.0 L176.1,497.5 L176.1,497.0 L176.2,496.5 L176.2,496.0 L176.2,495.5 L176.2,495.0 L176.2,494.5 L176.3,494.0 L176.3,493.5 L176.3,493.0 L176.4,492.5 L176.4,492.0 L176.4,491.5 L176.5,491.0 L176.5,490.5 L176.6,490.0 L176.6,489.5 L176.7,489.0 L176.7,488.5 L176.8,488.0 L176.8,487.5 L176.9,487.0 L177.0,486.5 L177.1,486.0 L177.2,485.5 L177.4,485.0 L177.6,484.5 L177.8,484.0 L178.0,483.5 L178.2,483.0 L178.5,482.5 L178.9,482.0 L179.5,481.5 L180.0,481.0 L180.7,480.5 L181.3,480.0 L182.0,479.5 L182.7,479.0 L183.5,478.5 L184.3,478.0 L185.2,477.5 L186.1,477.0 L187.0,476.5 L187.9,476.0 L188.8,475.5 L189.7,475.0 L190.6,474.5 L191.6,474.0 L192.5,473.5 L193.5,473.0 L194.5,472.5 L195.4,472.0 L196.3,471.5 L197.1,471.0 L197.9,470.5 L198.7,470.0 L199.5,469.5 L200.3,469.0 L201.1,468.5 L201.8,468.0 L202.5,467.5 L203.0,467.0 L203.4,466.5 L203.7,466.0 L204.0,465.5 L204.2,465.0 L204.4,464.5 L204.6,464.0 L204.8,463.5 L204.9,463.0 L205.0,462.5 L205.1,462.0 L205.1,461.5 L205.1,461.0 L205.0,460.5 L204.9,460.0 L204.8,459.5 L204.7,459.0 L204.5,458.5 L204.3,458.0 L204.1,457.5 L203.9,457.0 L203.7,456.5 L203.4,456.0 L203.0,455.5 L202.6,455.0 L202.2,454.5 L201.7,454.0 L201.3,453.5 L200.9,453.0 L200.5,452.5 L200.0,452.0 L199.6,451.5 L199.2,451.0 L198.7,450.5 L198.3,450.0 L197.8,449.5 L197.4,449.0 L196.9,448.5 L196.5,448.0 L196.1,447.5 L195.7,447.0 L195.3,446.5 L195.0,446.0 L194.6,445.5 L194.3,445.0 L194.0,444.5 L193.7,444.0 L193.4,443.5 L193.1,443.0 L192.8,442.5 L192.4,442.0 L192.1,441.5 L191.8,441.0 L191.4,440.5 L191.0,440.0 L190.6,439.5 L190.2,439.0 L189.8,438.5 L189.5,438.0 L189.1,437.5 L188.7,437.0 L188.3,436.5 L187.9,436.0 L187.5,435.5 L187.2,435.0 L186.8,434.5 L186.5,434.0 L186.2,433.5 L185.9,433.0 L185.6,432.5 L185.4,432.0 L185.1,431.5 L184.8,431.0 L184.6,430.5 L184.3,430.0 L184.1,429.5 L183.8,429.0 L183.6,428.5 L183.3,428.0 L183.1,427.5 L182.9,427.0 L182.6,426.5 L182.4,426.0 L182.2,425.5 L181.9,425.0 L181.7,424.5 L181.5,424.0 L181.3,423.5 L181.0,423.0 L180.8,422.5 L180.6,422.0 L180.4,421.5 L180.2,421.0 L180.0,420.5 L179.8,420.0 L179.6,419.5 L179.5,419.0 L179.3,418.5 L179.1,418.0 L179.0,417.5 L178.8,417.0 L178.7,416.5 L178.5,416.0 L178.4,415.5 L178.3,415.0 L178.1,414.5 L178.0,414.0 L177.9,413.5 L177.8,413.0 L177.7,412.5 L177.6,412.0 L177.5,411.5 L177.4,411.0 L177.4,410.5 L177.3,410.0 L177.2,409.5 L177.2,409.0 L177.1,408.5 L177.1,408.0 L177.0,407.5 L177.0,407.0 L176.9,406.5 L176.9,406.0 L176.9,405.5 L176.8,405.0 L176.8,404.5 L176.8,404.0 L176.7,403.5 L176.7,403.0 L176.7,402.5 L176.6,402.0 L176.6,401.5 L176.6,401.0 L176.6,400.5 L176.6,400.0 L176.5,399.5 L176.5,399.0 L176.5,398.5 L176.5,398.0 L176.5,397.5 L176.4,397.0 L176.4,396.5 L176.4,396.0 L176.4,395.5 L176.4,395.0 L176.4,394.5 L176.4,394.0 L176.3,393.5 L176.3,393.0 L176.3,392.5 L176.3,392.0 L176.3,391.5 L176.3,391.0 L176.3,390.5 L176.3,390.0 L176.3,389.5 L176.3,389.0 L176.2,388.5 L176.2,388.0 L176.2,387.5 L176.2,387.0 L176.2,386.5 L176.2,386.0 L176.2,385.5 L176.2,385.0 L176.1,384.5 L176.1,384.0 L176.1,383.5 L176.1,383.0 L176.1,382.5 L176.0,382.0Z" fill="#191E44"/>
<path d="M248.3,382.0 L248.3,382.5 L248.3,383.0 L248.3,383.5 L248.3,384.0 L248.3,384.5 L248.2,385.0 L248.2,385.5 L248.2,386.0 L248.2,386.5 L248.2,387.0 L248.2,387.5 L248.1,388.0 L248.1,388.5 L248.1,389.0 L248.1,389.5 L248.1,390.0 L248.1,390.5 L248.1,391.0 L248.0,391.5 L248.0,392.0 L248.0,392.5 L248.0,393.0 L248.0,393.5 L248.0,394.0 L247.9,394.5 L247.9,395.0 L247.9,395.5 L247.9,396.0 L247.8,396.5 L247.8,397.0 L247.8,397.5 L247.8,398.0 L247.7,398.5 L247.7,399.0 L247.7,399.5 L247.6,400.0 L247.6,400.5 L247.6,401.0 L247.5,401.5 L247.5,402.0 L247.4,402.5 L247.4,403.0 L247.4,403.5 L247.3,404.0 L247.2,404.5 L247.2,405.0 L247.1,405.5 L247.0,406.0 L247.0,406.5 L246.9,407.0 L246.8,407.5 L246.7,408.0 L246.6,408.5 L246.6,409.0 L246.5,409.5 L246.4,410.0 L246.3,410.5 L246.2,411.0 L246.0,411.5 L245.9,412.0 L245.8,412.5 L245.6,413.0 L245.5,413.5 L245.3,414.0 L245.1,414.5 L245.0,415.0 L244.8,415.5 L244.6,416.0 L244.4,416.5 L244.2,417.0 L244.0,417.5 L243.8,418.0 L243.6,418.5 L243.4,419.0 L243.2,419.5 L242.9,420.0 L242.7,420.5 L242.4,421.0 L242.2,421.5 L241.9,422.0 L241.7,422.5 L241.4,423.0 L241.1,423.5 L240.8,424.0 L240.5,424.5 L240.2,425.0 L239.9,425.5 L239.6,426.0 L239.3,426.5 L239.0,427.0 L238.6,427.5 L238.3,428.0 L237.9,428.5 L237.6,429.0 L237.2,429.5 L236.9,430.0 L236.5,430.5 L236.1,431.0 L235.7,431.5 L235.3,432.0 L234.9,432.5 L234.5,433.0 L234.1,433.5 L233.7,434.0 L233.3,434.5 L232.9,435.0 L232.4,435.5 L232.0,436.0 L231.5,436.5 L231.0,437.0 L230.5,437.5 L230.1,438.0 L229.6,438.5 L229.1,439.0 L228.7,439.5 L228.2,440.0 L227.8,440.5 L227.4,441.0 L227.0,441.5 L226.6,442.0 L226.3,442.5 L225.9,443.0 L225.6,443.5 L225.3,444.0 L225.0,444.5 L224.7,445.0 L224.3,445.5 L224.0,446.0 L223.7,446.5 L223.4,447.0 L223.1,447.5 L222.8,448.0 L222.4,448.5 L222.1,449.0 L221.9,449.5 L221.6,450.0 L221.3,450.5 L221.1,451.0 L220.8,451.5 L220.5,452.0 L220.2,452.5 L220.0,453.0 L219.7,453.5 L219.5,454.0 L219.4,454.5 L219.3,455.0 L219.3,455.5 L219.3,456.0 L219.3,456.5 L219.4,457.0 L219.5,457.5 L219.6,458.0 L219.6,458.5 L219.8,459.0 L219.9,459.5 L220.0,460.0 L220.2,460.5 L220.5,461.0 L220.9,461.5 L221.4,462.0 L221.9,462.5 L222.5,463.0 L223.2,463.5 L223.9,464.0 L224.6,464.5 L225.3,465.0 L226.0,465.5 L226.7,466.0 L227.4,466.5 L228.2,467.0 L229.0,467.5 L229.8,468.0 L230.7,468.5 L231.6,469.0 L232.4,469.5 L233.3,470.0 L234.2,470.5 L235.0,471.0 L235.9,471.5 L236.8,472.0 L237.7,472.5 L238.6,473.0 L239.5,473.5 L240.3,474.0 L241.1,474.5 L241.8,475.0 L242.4,475.5 L243.0,476.0 L243.7,476.5 L244.3,477.0 L244.8,477.5 L245.4,478.0 L245.8,478.5 L246.2,479.0 L246.5,479.5 L246.7,480.0 L246.8,480.5 L246.9,481.0 L247.0,481.5 L247.1,482.0 L247.2,482.5 L247.2,483.0 L247.3,483.5 L247.4,484.0 L247.4,484.5 L247.5,485.0 L247.5,485.5 L247.6,486.0 L247.6,486.5 L247.6,487.0 L247.7,487.5 L247.7,488.0 L247.8,488.5 L247.8,489.0 L247.9,489.5 L247.9,490.0 L247.9,490.5 L248.0,491.0 L248.0,491.5 L248.0,492.0 L248.1,492.5 L248.1,493.0 L248.1,493.5 L248.2,494.0 L248.2,494.5 L248.2,495.0 L248.2,495.5 L248.3,496.0 L248.3,496.5 L248.3,497.0 L248.3,497.5 L248.3,498.0 L248.3,498.5 L248.4,499.0 L248.4,499.5 L248.4,500.0 L248.4,500.5 L248.4,501.0 L248.4,501.5 L248.4,502.0 L248.6,502.0 L248.6,501.5 L248.6,501.0 L248.6,500.5 L248.6,500.0 L248.6,499.5 L248.6,499.0 L248.7,498.5 L248.7,498.0 L248.7,497.5 L248.7,497.0 L248.7,496.5 L248.7,496.0 L248.8,495.5 L248.8,495.0 L248.8,494.5 L248.8,494.0 L248.9,493.5 L248.9,493.0 L248.9,492.5 L249.0,492.0 L249.0,491.5 L249.0,491.0 L249.1,490.5 L249.1,490.0 L249.1,489.5 L249.2,489.0 L249.2,488.5 L249.3,488.0 L249.3,487.5 L249.4,487.0 L249.4,486.5 L249.4,486.0 L249.5,485.5 L249.5,485.0 L249.6,484.5 L249.6,484.0 L249.7,483.5 L249.8,483.0 L249.8,482.5 L249.9,482.0 L250.0,481.5 L250.1,481.0 L250.2,480.5 L250.3,480.0 L250.5,479.5 L250.8,479.0 L251.2,478.5 L251.6,478.0 L252.2,477.5 L252.7,477.0 L253.3,476.5 L254.0,476.0 L254.6,475.5 L255.2,475.0 L255.9,474.5 L256.7,474.0 L257.5,473.5 L258.4,473.0 L259.3,472.5 L260.2,472.0 L261.1,471.5 L262.0,471.0 L262.8,470.5 L263.7,470.0 L264.6,469.5 L265.4,469.0 L266.3,468.5 L267.2,468.0 L268.0,467.5 L268.8,467.0 L269.6,466.5 L270.3,466.0 L271.0,465.5 L271.7,465.0 L272.4,464.5 L273.1,464.0 L273.8,463.5 L274.5,463.0 L275.1,462.5 L275.6,462.0 L276.1,461.5 L276.5,461.0 L276.8,460.5 L277.0,460.0 L277.1,459.5 L277.2,459.0 L277.4,458.5 L277.4,458.0 L277.5,457.5 L277.6,457.0 L277.7,456.5 L277.7,456.0 L277.7,455.5 L277.7,455.0 L277.6,454.5 L277.5,454.0 L277.3,453.5 L277.0,453.0 L276.8,452.5 L276.5,452.0 L276.2,451.5 L275.9,451.0 L275.7,450.5 L275.4,450.0 L275.1,449.5 L274.9,449.0 L274.6,448.5 L274.2,448.0 L273.9,447.5 L273.6,447.0 L273.3,446.5 L273.0,446.0 L272.7,445.5 L272.3,445.0 L272.0,444.5 L271.7,444.0 L271.4,443.5 L271.1,443.0 L270.7,442.5 L270.4,442.0 L270.0,441.5 L269.6,441.0 L269.2,440.5 L268.8,440.0 L268.3,439.5 L267.9,439.0 L267.4,438.5 L266.9,438.0 L266.5,437.5 L266.0,437.0 L265.5,436.5 L265.0,436.0 L264.6,435.5 L264.1,435.0 L263.7,434.5 L263.3,434.0 L262.9,433.5 L262.5,433.0 L262.1,432.5 L261.7,432.0 L261.3,431.5 L260.9,431.0 L260.5,430.5 L260.1,430.0 L259.8,429.5 L259.4,429.0 L259.1,428.5 L258.7,428.0 L258.4,427.5 L258.0,427.0 L257.7,426.5 L257.4,426.0 L257.1,425.5 L256.8,425.0 L256.5,424.5 L256.2,424.0 L255.9,423.5 L255.6,423.0 L255.3,422.5 L255.1,422.0 L254.8,421.5 L254.6,421.0 L254.3,420.5 L254.1,420.0 L253.8,419.5 L253.6,419.0 L253.4,418.5 L253.2,418.0 L253.0,417.5 L252.8,417.0 L252.6,416.5 L252.4,416.0 L252.2,415.5 L252.0,415.0 L251.9,414.5 L251.7,414.0 L251.5,413.5 L251.4,413.0 L251.2,412.5 L251.1,412.0 L251.0,411.5 L250.8,411.0 L250.7,410.5 L250.6,410.0 L250.5,409.5 L250.4,409.0 L250.4,408.5 L250.3,408.0 L250.2,407.5 L250.1,407.0 L250.0,406.5 L250.0,406.0 L249.9,405.5 L249.8,405.0 L249.8,404.5 L249.7,404.0 L249.6,403.5 L249.6,403.0 L249.6,402.5 L249.5,402.0 L249.5,401.5 L249.4,401.0 L249.4,400.5 L249.4,400.0 L249.3,399.5 L249.3,399.0 L249.3,398.5 L249.2,398.0 L249.2,397.5 L249.2,397.0 L249.2,396.5 L249.1,396.0 L249.1,395.5 L249.1,395.0 L249.1,394.5 L249.0,394.0 L249.0,393.5 L249.0,393.0 L249.0,392.5 L249.0,392.0 L249.0,391.5 L248.9,391.0 L248.9,390.5 L248.9,390.0 L248.9,389.5 L248.9,389.0 L248.9,388.5 L248.9,388.0 L248.8,387.5 L248.8,387.0 L248.8,386.5 L248.8,386.0 L248.8,385.5 L248.8,385.0 L248.7,384.5 L248.7,384.0 L248.7,383.5 L248.7,383.0 L248.7,382.5 L248.7,382.0Z" fill="#0A9A84"/>
<path d="M320.9,384.0 L320.9,384.5 L320.9,385.0 L320.9,385.5 L320.8,386.0 L320.8,386.5 L320.8,387.0 L320.8,387.5 L320.8,388.0 L320.8,388.5 L320.7,389.0 L320.7,389.5 L320.7,390.0 L320.7,390.5 L320.7,391.0 L320.7,391.5 L320.6,392.0 L320.6,392.5 L320.6,393.0 L320.6,393.5 L320.6,394.0 L320.5,394.5 L320.5,395.0 L320.5,395.5 L320.5,396.0 L320.4,396.5 L320.4,397.0 L320.3,397.5 L320.3,398.0 L320.2,398.5 L320.2,399.0 L320.1,399.5 L320.0,400.0 L320.0,400.5 L319.9,401.0 L319.8,401.5 L319.8,402.0 L319.7,402.5 L319.6,403.0 L319.5,403.5 L319.4,404.0 L319.3,404.5 L319.2,405.0 L319.1,405.5 L319.0,406.0 L318.9,406.5 L318.7,407.0 L318.6,407.5 L318.5,408.0 L318.3,408.5 L318.2,409.0 L318.1,409.5 L317.9,410.0 L317.8,410.5 L317.6,411.0 L317.5,411.5 L317.4,412.0 L317.2,412.5 L317.1,413.0 L316.9,413.5 L316.8,414.0 L316.6,414.5 L316.5,415.0 L316.3,415.5 L316.2,416.0 L316.0,416.5 L315.8,417.0 L315.6,417.5 L315.5,418.0 L315.3,418.5 L315.1,419.0 L314.9,419.5 L314.7,420.0 L314.6,420.5 L314.4,421.0 L314.2,421.5 L314.0,422.0 L313.8,422.5 L313.5,423.0 L313.3,423.5 L313.1,424.0 L312.9,424.5 L312.7,425.0 L312.4,425.5 L312.2,426.0 L312.0,426.5 L311.7,427.0 L311.5,427.5 L311.3,428.0 L311.0,428.5 L310.8,429.0 L310.5,429.5 L310.2,430.0 L310.0,430.5 L309.7,431.0 L309.4,431.5 L309.1,432.0 L308.8,432.5 L308.5,433.0 L308.2,433.5 L307.9,434.0 L307.5,434.5 L307.1,435.0 L306.7,435.5 L306.3,436.0 L305.8,436.5 L305.3,437.0 L304.9,437.5 L304.4,438.0 L303.9,438.5 L303.4,439.0 L302.9,439.5 L302.4,440.0 L302.0,440.5 L301.5,441.0 L301.1,441.5 L300.7,442.0 L300.2,442.5 L299.8,443.0 L299.4,443.5 L299.0,444.0 L298.6,444.5 L298.2,445.0 L297.8,445.5 L297.4,446.0 L297.1,446.5 L296.8,447.0 L296.5,447.5 L296.2,448.0 L295.9,448.5 L295.6,449.0 L295.4,449.5 L295.2,450.0 L295.0,450.5 L294.7,451.0 L294.5,451.5 L294.3,452.0 L294.1,452.5 L293.9,453.0 L293.7,453.5 L293.4,454.0 L293.2,454.5 L292.9,455.0 L292.7,455.5 L292.5,456.0 L292.3,456.5 L292.1,457.0 L292.0,457.5 L291.9,458.0 L291.9,458.5 L291.9,459.0 L292.1,459.5 L292.2,460.0 L292.5,460.5 L292.8,461.0 L293.1,461.5 L293.5,462.0 L293.8,462.5 L294.2,463.0 L294.6,463.5 L295.2,464.0 L295.9,464.5 L296.6,465.0 L297.4,465.5 L298.3,466.0 L299.2,466.5 L300.1,467.0 L301.1,467.5 L302.0,468.0 L303.0,468.5 L303.9,469.0 L304.7,469.5 L305.6,470.0 L306.6,470.5 L307.5,471.0 L308.5,471.5 L309.4,472.0 L310.3,472.5 L311.2,473.0 L312.1,473.5 L312.9,474.0 L313.8,474.5 L314.7,475.0 L315.6,475.5 L316.4,476.0 L317.2,476.5 L317.9,477.0 L318.6,477.5 L319.0,478.0 L319.3,478.5 L319.5,479.0 L319.6,479.5 L319.8,480.0 L319.9,480.5 L320.0,481.0 L320.1,481.5 L320.2,482.0 L320.3,482.5 L320.4,483.0 L320.5,483.5 L320.5,484.0 L320.6,484.5 L320.6,485.0 L320.7,485.5 L320.7,486.0 L320.8,486.5 L320.8,487.0 L320.9,487.5 L320.9,488.0 L321.0,488.5 L321.0,489.0 L321.0,489.5 L321.0,490.0 L321.2,490.0 L321.2,489.5 L321.2,489.0 L321.2,488.5 L321.3,488.0 L321.3,487.5 L321.4,487.0 L321.4,486.5 L321.5,486.0 L321.5,485.5 L321.6,485.0 L321.6,484.5 L321.7,484.0 L321.7,483.5 L321.8,483.0 L321.9,482.5 L322.0,482.0 L322.1,481.5 L322.2,481.0 L322.3,480.5 L322.4,480.0 L322.6,479.5 L322.7,479.0 L322.9,478.5 L323.2,478.0 L323.6,477.5 L324.3,477.0 L325.0,476.5 L325.8,476.0 L326.6,475.5 L327.5,475.0 L328.4,474.5 L329.3,474.0 L330.1,473.5 L331.0,473.0 L331.9,472.5 L332.8,472.0 L333.7,471.5 L334.7,471.0 L335.6,470.5 L336.6,470.0 L337.5,469.5 L338.3,469.0 L339.2,468.5 L340.2,468.0 L341.1,467.5 L342.1,467.0 L343.0,466.5 L343.9,466.0 L344.8,465.5 L345.6,465.0 L346.3,464.5 L347.0,464.0 L347.6,463.5 L348.0,463.0 L348.4,462.5 L348.7,462.0 L349.1,461.5 L349.4,461.0 L349.7,460.5 L350.0,460.0 L350.1,459.5 L350.3,459.0 L350.3,458.5 L350.3,458.0 L350.2,457.5 L350.1,457.0 L349.9,456.5 L349.7,456.0 L349.5,455.5 L349.3,455.0 L349.0,454.5 L348.8,454.0 L348.5,453.5 L348.3,453.0 L348.1,452.5 L347.9,452.0 L347.7,451.5 L347.5,451.0 L347.2,450.5 L347.0,450.0 L346.8,449.5 L346.6,449.0 L346.3,448.5 L346.0,448.0 L345.7,447.5 L345.4,447.0 L345.1,446.5 L344.8,446.0 L344.4,445.5 L344.0,445.0 L343.6,444.5 L343.2,444.0 L342.8,443.5 L342.4,443.0 L342.0,442.5 L341.5,442.0 L341.1,441.5 L340.7,441.0 L340.2,440.5 L339.8,440.0 L339.3,439.5 L338.8,439.0 L338.3,438.5 L337.8,438.0 L337.3,437.5 L336.9,437.0 L336.4,436.5 L335.9,436.0 L335.5,435.5 L335.1,435.0 L334.7,434.5 L334.3,434.0 L334.0,433.5 L333.7,433.0 L333.4,432.5 L333.1,432.0 L332.8,431.5 L332.5,431.0 L332.2,430.5 L332.0,430.0 L331.7,429.5 L331.4,429.0 L331.2,428.5 L330.9,428.0 L330.7,427.5 L330.5,427.0 L330.2,426.5 L330.0,426.0 L329.8,425.5 L329.5,425.0 L329.3,424.5 L329.1,424.0 L328.9,423.5 L328.7,423.0 L328.4,422.5 L328.2,422.0 L328.0,421.5 L327.8,421.0 L327.6,420.5 L327.5,420.0 L327.3,419.5 L327.1,419.0 L326.9,418.5 L326.7,418.0 L326.6,417.5 L326.4,417.0 L326.2,416.5 L326.0,416.0 L325.9,415.5 L325.7,415.0 L325.6,414.5 L325.4,414.0 L325.3,413.5 L325.1,413.0 L325.0,412.5 L324.8,412.0 L324.7,411.5 L324.6,411.0 L324.4,410.5 L324.3,410.0 L324.1,409.5 L324.0,409.0 L323.9,408.5 L323.7,408.0 L323.6,407.5 L323.5,407.0 L323.3,406.5 L323.2,406.0 L323.1,405.5 L323.0,405.0 L322.9,404.5 L322.8,404.0 L322.7,403.5 L322.6,403.0 L322.5,402.5 L322.4,402.0 L322.4,401.5 L322.3,401.0 L322.2,400.5 L322.2,400.0 L322.1,399.5 L322.0,399.0 L322.0,398.5 L321.9,398.0 L321.9,397.5 L321.8,397.0 L321.8,396.5 L321.7,396.0 L321.7,395.5 L321.7,395.0 L321.7,394.5 L321.6,394.0 L321.6,393.5 L321.6,393.0 L321.6,392.5 L321.6,392.0 L321.5,391.5 L321.5,391.0 L321.5,390.5 L321.5,390.0 L321.5,389.5 L321.5,389.0 L321.4,388.5 L321.4,388.0 L321.4,387.5 L321.4,387.0 L321.4,386.5 L321.3,386.0 L321.3,385.5 L321.3,385.0 L321.3,384.5 L321.2,384.0Z" fill="#AF9327"/>
<path d="M393.6,376.0 L393.5,376.5 L393.5,377.0 L393.5,377.5 L393.5,378.0 L393.5,378.5 L393.5,379.0 L393.5,379.5 L393.5,380.0 L393.5,380.5 L393.5,381.0 L393.5,381.5 L393.5,382.0 L393.5,382.5 L393.4,383.0 L393.4,383.5 L393.4,384.0 L393.4,384.5 L393.4,385.0 L393.4,385.5 L393.4,386.0 L393.4,386.5 L393.4,387.0 L393.4,387.5 L393.3,388.0 L393.3,388.5 L393.3,389.0 L393.3,389.5 L393.3,390.0 L393.3,390.5 L393.3,391.0 L393.2,391.5 L393.2,392.0 L393.2,392.5 L393.2,393.0 L393.2,393.5 L393.2,394.0 L393.1,394.5 L393.1,395.0 L393.1,395.5 L393.1,396.0 L393.0,396.5 L393.0,397.0 L393.0,397.5 L393.0,398.0 L392.9,398.5 L392.9,399.0 L392.8,399.5 L392.8,400.0 L392.8,400.5 L392.7,401.0 L392.7,401.5 L392.6,402.0 L392.6,402.5 L392.5,403.0 L392.4,403.5 L392.4,404.0 L392.3,404.5 L392.2,405.0 L392.1,405.5 L392.0,406.0 L391.9,406.5 L391.8,407.0 L391.7,407.5 L391.6,408.0 L391.5,408.5 L391.4,409.0 L391.2,409.5 L391.1,410.0 L391.0,410.5 L390.8,411.0 L390.7,411.5 L390.6,412.0 L390.4,412.5 L390.2,413.0 L390.1,413.5 L389.9,414.0 L389.7,414.5 L389.5,415.0 L389.3,415.5 L389.2,416.0 L389.0,416.5 L388.8,417.0 L388.6,417.5 L388.4,418.0 L388.2,418.5 L388.0,419.0 L387.8,419.5 L387.6,420.0 L387.4,420.5 L387.2,421.0 L387.0,421.5 L386.8,422.0 L386.6,422.5 L386.4,423.0 L386.2,423.5 L386.0,424.0 L385.8,424.5 L385.6,425.0 L385.4,425.5 L385.2,426.0 L385.0,426.5 L384.8,427.0 L384.6,427.5 L384.4,428.0 L384.1,428.5 L383.9,429.0 L383.7,429.5 L383.5,430.0 L383.3,430.5 L383.0,431.0 L382.8,431.5 L382.6,432.0 L382.3,432.5 L382.1,433.0 L381.9,433.5 L381.6,434.0 L381.3,434.5 L381.1,435.0 L380.8,435.5 L380.5,436.0 L380.2,436.5 L379.9,437.0 L379.6,437.5 L379.3,438.0 L379.0,438.5 L378.7,439.0 L378.4,439.5 L378.1,440.0 L377.8,440.5 L377.4,441.0 L377.1,441.5 L376.8,442.0 L376.5,442.5 L376.1,443.0 L375.8,443.5 L375.5,444.0 L375.1,444.5 L374.7,445.0 L374.3,445.5 L373.9,446.0 L373.4,446.5 L372.8,447.0 L372.2,447.5 L371.5,448.0 L370.8,448.5 L370.1,449.0 L369.1,449.5 L368.2,450.0 L367.2,450.5 L366.5,451.0 L366.0,451.5 L365.7,452.0 L365.4,452.5 L365.1,453.0 L364.9,453.5 L364.7,454.0 L364.6,454.5 L364.5,455.0 L364.5,455.5 L364.5,456.0 L364.6,456.5 L364.8,457.0 L365.0,457.5 L365.2,458.0 L365.4,458.5 L365.7,459.0 L366.0,459.5 L366.3,460.0 L366.7,460.5 L367.1,461.0 L367.7,461.5 L368.3,462.0 L369.1,462.5 L369.8,463.0 L370.6,463.5 L371.5,464.0 L372.3,464.5 L373.2,465.0 L374.1,465.5 L374.9,466.0 L375.7,466.5 L376.5,467.0 L377.4,467.5 L378.3,468.0 L379.3,468.5 L380.2,469.0 L381.2,469.5 L382.1,470.0 L383.0,470.5 L383.9,471.0 L384.7,471.5 L385.5,472.0 L386.3,472.5 L387.1,473.0 L387.9,473.5 L388.6,474.0 L389.4,474.5 L390.1,475.0 L390.7,475.5 L391.3,476.0 L391.7,476.5 L391.9,477.0 L392.1,477.5 L392.3,478.0 L392.5,478.5 L392.6,479.0 L392.8,479.5 L392.9,480.0 L393.0,480.5 L393.0,481.0 L393.1,481.5 L393.1,482.0 L393.2,482.5 L393.2,483.0 L393.3,483.5 L393.3,484.0 L393.3,484.5 L393.3,485.0 L393.4,485.5 L393.4,486.0 L393.4,486.5 L393.4,487.0 L393.4,487.5 L393.5,488.0 L393.5,488.5 L393.5,489.0 L393.5,489.5 L393.5,490.0 L393.6,490.5 L393.6,491.0 L393.6,491.5 L393.6,492.0 L393.8,492.0 L393.8,491.5 L393.8,491.0 L393.8,490.5 L393.9,490.0 L393.9,489.5 L393.9,489.0 L393.9,488.5 L393.9,488.0 L394.0,487.5 L394.0,487.0 L394.0,486.5 L394.0,486.0 L394.0,485.5 L394.1,485.0 L394.1,484.5 L394.1,484.0 L394.1,483.5 L394.2,483.0 L394.2,482.5 L394.3,482.0 L394.3,481.5 L394.4,481.0 L394.4,480.5 L394.5,480.0 L394.6,479.5 L394.8,479.0 L394.9,478.5 L395.1,478.0 L395.3,477.5 L395.5,477.0 L395.7,476.5 L396.1,476.0 L396.7,475.5 L397.3,475.0 L398.0,474.5 L398.8,474.0 L399.5,473.5 L400.3,473.0 L401.1,472.5 L401.9,472.0 L402.7,471.5 L403.5,471.0 L404.4,470.5 L405.3,470.0 L406.2,469.5 L407.2,469.0 L408.1,468.5 L409.1,468.0 L410.0,467.5 L410.9,467.0 L411.7,466.5 L412.5,466.0 L413.3,465.5 L414.2,465.0 L415.1,464.5 L415.9,464.0 L416.8,463.5 L417.6,463.0 L418.3,462.5 L419.1,462.0 L419.7,461.5 L420.3,461.0 L420.7,460.5 L421.1,460.0 L421.4,459.5 L421.7,459.0 L422.0,458.5 L422.2,458.0 L422.4,457.5 L422.6,457.0 L422.8,456.5 L422.9,456.0 L422.9,455.5 L422.9,455.0 L422.8,454.5 L422.7,454.0 L422.5,453.5 L422.3,453.0 L422.0,452.5 L421.7,452.0 L421.4,451.5 L420.9,451.0 L420.2,450.5 L419.2,450.0 L418.3,449.5 L417.3,449.0 L416.6,448.5 L415.9,448.0 L415.2,447.5 L414.6,447.0 L414.0,446.5 L413.5,446.0 L413.1,445.5 L412.7,445.0 L412.3,444.5 L411.9,444.0 L411.6,443.5 L411.3,443.0 L410.9,442.5 L410.6,442.0 L410.3,441.5 L410.0,441.0 L409.6,440.5 L409.3,440.0 L409.0,439.5 L408.7,439.0 L408.4,438.5 L408.1,438.0 L407.8,437.5 L407.5,437.0 L407.2,436.5 L406.9,436.0 L406.6,435.5 L406.3,435.0 L406.1,434.5 L405.8,434.0 L405.5,433.5 L405.3,433.0 L405.1,432.5 L404.8,432.0 L404.6,431.5 L404.4,431.0 L404.1,430.5 L403.9,430.0 L403.7,429.5 L403.5,429.0 L403.3,428.5 L403.0,428.0 L402.8,427.5 L402.6,427.0 L402.4,426.5 L402.2,426.0 L402.0,425.5 L401.8,425.0 L401.6,424.5 L401.4,424.0 L401.2,423.5 L401.0,423.0 L400.8,422.5 L400.6,422.0 L400.4,421.5 L400.2,421.0 L400.0,420.5 L399.8,420.0 L399.6,419.5 L399.4,419.0 L399.2,418.5 L399.0,418.0 L398.8,417.5 L398.6,417.0 L398.4,416.5 L398.2,416.0 L398.1,415.5 L397.9,415.0 L397.7,414.5 L397.5,414.0 L397.3,413.5 L397.2,413.0 L397.0,412.5 L396.8,412.0 L396.7,411.5 L396.6,411.0 L396.4,410.5 L396.3,410.0 L396.2,409.5 L396.0,409.0 L395.9,408.5 L395.8,408.0 L395.7,407.5 L395.6,407.0 L395.5,406.5 L395.4,406.0 L395.3,405.5 L395.2,405.0 L395.1,404.5 L395.0,404.0 L395.0,403.5 L394.9,403.0 L394.8,402.5 L394.8,402.0 L394.7,401.5 L394.7,401.0 L394.6,400.5 L394.6,400.0 L394.6,399.5 L394.5,399.0 L394.5,398.5 L394.4,398.0 L394.4,397.5 L394.4,397.0 L394.4,396.5 L394.3,396.0 L394.3,395.5 L394.3,395.0 L394.3,394.5 L394.2,394.0 L394.2,393.5 L394.2,393.0 L394.2,392.5 L394.2,392.0 L394.2,391.5 L394.1,391.0 L394.1,390.5 L394.1,390.0 L394.1,389.5 L394.1,389.0 L394.1,388.5 L394.1,388.0 L394.0,387.5 L394.0,387.0 L394.0,386.5 L394.0,386.0 L394.0,385.5 L394.0,385.0 L394.0,384.5 L394.0,384.0 L394.0,383.5 L394.0,383.0 L393.9,382.5 L393.9,382.0 L393.9,381.5 L393.9,381.0 L393.9,380.5 L393.9,380.0 L393.9,379.5 L393.9,379.0 L393.9,378.5 L393.9,378.0 L393.9,377.5 L393.9,377.0 L393.9,376.5 L393.8,376.0Z" fill="#791457"/>
<path d="M466.2,376.0 L466.1,376.5 L466.1,377.0 L466.1,377.5 L466.1,378.0 L466.1,378.5 L466.1,379.0 L466.1,379.5 L466.1,380.0 L466.1,380.5 L466.1,381.0 L466.1,381.5 L466.1,382.0 L466.0,382.5 L466.0,383.0 L466.0,383.5 L466.0,384.0 L466.0,384.5 L466.0,385.0 L466.0,385.5 L466.0,386.0 L465.9,386.5 L465.9,387.0 L465.9,387.5 L465.9,388.0 L465.9,388.5 L465.8,389.0 L465.8,389.5 L465.8,390.0 L465.8,390.5 L465.8,391.0 L465.7,391.5 L465.7,392.0 L465.7,392.5 L465.7,393.0 L465.6,393.5 L465.6,394.0 L465.6,394.5 L465.5,395.0 L465.5,395.5 L465.5,396.0 L465.4,396.5 L465.4,397.0 L465.3,397.5 L465.3,398.0 L465.3,398.5 L465.2,399.0 L465.2,399.5 L465.1,400.0 L465.0,400.5 L465.0,401.0 L464.9,401.5 L464.8,402.0 L464.8,402.5 L464.7,403.0 L464.6,403.5 L464.5,404.0 L464.4,404.5 L464.3,405.0 L464.2,405.5 L464.1,406.0 L464.0,406.5 L463.9,407.0 L463.8,407.5 L463.7,408.0 L463.6,408.5 L463.5,409.0 L463.4,409.5 L463.3,410.0 L463.1,410.5 L463.0,411.0 L462.9,411.5 L462.7,412.0 L462.6,412.5 L462.4,413.0 L462.3,413.5 L462.1,414.0 L462.0,414.5 L461.8,415.0 L461.7,415.5 L461.5,416.0 L461.3,416.5 L461.2,417.0 L461.0,417.5 L460.8,418.0 L460.6,418.5 L460.4,419.0 L460.3,419.5 L460.1,420.0 L459.9,420.5 L459.7,421.0 L459.5,421.5 L459.3,422.0 L459.1,422.5 L458.9,423.0 L458.7,423.5 L458.5,424.0 L458.3,424.5 L458.1,425.0 L457.9,425.5 L457.8,426.0 L457.6,426.5 L457.4,427.0 L457.2,427.5 L457.0,428.0 L456.8,428.5 L456.6,429.0 L456.4,429.5 L456.1,430.0 L455.9,430.5 L455.7,431.0 L455.5,431.5 L455.3,432.0 L455.0,432.5 L454.8,433.0 L454.6,433.5 L454.3,434.0 L454.1,434.5 L453.9,435.0 L453.6,435.5 L453.4,436.0 L453.1,436.5 L452.9,437.0 L452.6,437.5 L452.4,438.0 L452.1,438.5 L451.8,439.0 L451.6,439.5 L451.3,440.0 L451.0,440.5 L450.8,441.0 L450.5,441.5 L450.2,442.0 L449.9,442.5 L449.6,443.0 L449.3,443.5 L449.0,444.0 L448.7,444.5 L448.3,445.0 L448.0,445.5 L447.6,446.0 L447.2,446.5 L446.8,447.0 L446.3,447.5 L445.7,448.0 L445.0,448.5 L444.3,449.0 L443.6,449.5 L442.8,450.0 L442.1,450.5 L441.4,451.0 L440.7,451.5 L439.9,452.0 L439.1,452.5 L438.4,453.0 L438.0,453.5 L437.7,454.0 L437.5,454.5 L437.4,455.0 L437.3,455.5 L437.2,456.0 L437.1,456.5 L437.1,457.0 L437.2,457.5 L437.4,458.0 L437.6,458.5 L437.9,459.0 L438.3,459.5 L438.6,460.0 L439.0,460.5 L439.5,461.0 L440.1,461.5 L440.8,462.0 L441.5,462.5 L442.3,463.0 L443.2,463.5 L444.0,464.0 L444.9,464.5 L445.8,465.0 L446.6,465.5 L447.5,466.0 L448.3,466.5 L449.2,467.0 L450.1,467.5 L451.0,468.0 L451.9,468.5 L452.9,469.0 L453.8,469.5 L454.8,470.0 L455.7,470.5 L456.6,471.0 L457.4,471.5 L458.2,472.0 L458.9,472.5 L459.6,473.0 L460.3,473.5 L461.0,474.0 L461.6,474.5 L462.2,475.0 L462.8,475.5 L463.3,476.0 L463.8,476.5 L464.2,477.0 L464.5,477.5 L464.9,478.0 L465.2,478.5 L465.5,479.0 L465.7,479.5 L465.8,480.0 L465.8,480.5 L465.9,481.0 L465.9,481.5 L465.9,482.0 L466.0,482.5 L466.0,483.0 L466.0,483.5 L466.0,484.0 L466.0,484.5 L466.0,485.0 L466.0,485.5 L466.1,486.0 L466.1,486.5 L466.1,487.0 L466.1,487.5 L466.1,488.0 L466.1,488.5 L466.1,489.0 L466.2,489.5 L466.2,490.0 L466.2,490.5 L466.2,491.0 L466.4,491.0 L466.4,490.5 L466.4,490.0 L466.4,489.5 L466.5,489.0 L466.5,488.5 L466.5,488.0 L466.5,487.5 L466.5,487.0 L466.5,486.5 L466.5,486.0 L466.6,485.5 L466.6,485.0 L466.6,484.5 L466.6,484.0 L466.6,483.5 L466.6,483.0 L466.6,482.5 L466.7,482.0 L466.7,481.5 L466.7,481.0 L466.8,480.5 L466.8,480.0 L466.9,479.5 L467.1,479.0 L467.4,478.5 L467.7,478.0 L468.1,477.5 L468.4,477.0 L468.8,476.5 L469.3,476.0 L469.8,475.5 L470.4,475.0 L471.0,474.5 L471.6,474.0 L472.3,473.5 L473.0,473.0 L473.7,472.5 L474.4,472.0 L475.2,471.5 L476.0,471.0 L476.9,470.5 L477.8,470.0 L478.8,469.5 L479.7,469.0 L480.7,468.5 L481.6,468.0 L482.5,467.5 L483.4,467.0 L484.3,466.5 L485.1,466.0 L486.0,465.5 L486.8,465.0 L487.7,464.5 L488.6,464.0 L489.4,463.5 L490.3,463.0 L491.1,462.5 L491.8,462.0 L492.5,461.5 L493.1,461.0 L493.6,460.5 L494.0,460.0 L494.3,459.5 L494.7,459.0 L495.0,458.5 L495.2,458.0 L495.4,457.5 L495.5,457.0 L495.5,456.5 L495.4,456.0 L495.3,455.5 L495.2,455.0 L495.1,454.5 L494.9,454.0 L494.6,453.5 L494.2,453.0 L493.5,452.5 L492.7,452.0 L491.9,451.5 L491.2,451.0 L490.5,450.5 L489.8,450.0 L489.0,449.5 L488.3,449.0 L487.6,448.5 L486.9,448.0 L486.3,447.5 L485.8,447.0 L485.4,446.5 L485.0,446.0 L484.6,445.5 L484.3,445.0 L483.9,444.5 L483.6,444.0 L483.3,443.5 L483.0,443.0 L482.7,442.5 L482.4,442.0 L482.1,441.5 L481.8,441.0 L481.6,440.5 L481.3,440.0 L481.0,439.5 L480.8,439.0 L480.5,438.5 L480.2,438.0 L480.0,437.5 L479.7,437.0 L479.5,436.5 L479.2,436.0 L479.0,435.5 L478.7,435.0 L478.5,434.5 L478.3,434.0 L478.0,433.5 L477.8,433.0 L477.6,432.5 L477.3,432.0 L477.1,431.5 L476.9,431.0 L476.7,430.5 L476.5,430.0 L476.2,429.5 L476.0,429.0 L475.8,428.5 L475.6,428.0 L475.4,427.5 L475.2,427.0 L475.0,426.5 L474.8,426.0 L474.7,425.5 L474.5,425.0 L474.3,424.5 L474.1,424.0 L473.9,423.5 L473.7,423.0 L473.5,422.5 L473.3,422.0 L473.1,421.5 L472.9,421.0 L472.7,420.5 L472.5,420.0 L472.3,419.5 L472.2,419.0 L472.0,418.5 L471.8,418.0 L471.6,417.5 L471.4,417.0 L471.3,416.5 L471.1,416.0 L470.9,415.5 L470.8,415.0 L470.6,414.5 L470.5,414.0 L470.3,413.5 L470.2,413.0 L470.0,412.5 L469.9,412.0 L469.7,411.5 L469.6,411.0 L469.5,410.5 L469.3,410.0 L469.2,409.5 L469.1,409.0 L469.0,408.5 L468.9,408.0 L468.8,407.5 L468.7,407.0 L468.6,406.5 L468.5,406.0 L468.4,405.5 L468.3,405.0 L468.2,404.5 L468.1,404.0 L468.0,403.5 L467.9,403.0 L467.8,402.5 L467.8,402.0 L467.7,401.5 L467.6,401.0 L467.6,400.5 L467.5,400.0 L467.4,399.5 L467.4,399.0 L467.3,398.5 L467.3,398.0 L467.3,397.5 L467.2,397.0 L467.2,396.5 L467.1,396.0 L467.1,395.5 L467.1,395.0 L467.0,394.5 L467.0,394.0 L467.0,393.5 L466.9,393.0 L466.9,392.5 L466.9,392.0 L466.9,391.5 L466.8,391.0 L466.8,390.5 L466.8,390.0 L466.8,389.5 L466.8,389.0 L466.7,388.5 L466.7,388.0 L466.7,387.5 L466.7,387.0 L466.7,386.5 L466.6,386.0 L466.6,385.5 L466.6,385.0 L466.6,384.5 L466.6,384.0 L466.6,383.5 L466.6,383.0 L466.6,382.5 L466.5,382.0 L466.5,381.5 L466.5,381.0 L466.5,380.5 L466.5,380.0 L466.5,379.5 L466.5,379.0 L466.5,378.5 L466.5,378.0 L466.5,377.5 L466.5,377.0 L466.5,376.5 L466.4,376.0Z" fill="#6C768C"/>
</g>
<line x1="92.8" y1="446.0" x2="113.8" y2="446.0" stroke="#f00000" stroke-width="1.9"/><line x1="79.4" y1="463.5" x2="127.2" y2="463.5" stroke="#fff" stroke-opacity="0.85" stroke-width="2.2" stroke-dasharray="9.5 2.4" stroke-dashoffset="4.7"/><line x1="93.8" y1="446.2" x2="112.8" y2="446.2" stroke="#fff" stroke-opacity="0.85" stroke-width="2" stroke-dasharray="2 4.1"/><line x1="165.4" y1="446.0" x2="186.4" y2="446.0" stroke="#f00000" stroke-width="1.9"/><line x1="150.4" y1="453.6" x2="201.4" y2="453.6" stroke="#fff" stroke-opacity="0.85" stroke-width="2.2" stroke-dasharray="9.5 2.4" stroke-dashoffset="3.0"/><line x1="156.7" y1="446.2" x2="195.1" y2="446.2" stroke="#fff" stroke-opacity="0.85" stroke-width="2" stroke-dasharray="2 4.1"/><line x1="238.0" y1="446.0" x2="259.0" y2="446.0" stroke="#f00000" stroke-width="1.9"/><line x1="221.7" y1="449.8" x2="275.3" y2="449.8" stroke="#fff" stroke-opacity="0.85" stroke-width="2.2" stroke-dasharray="9.5 2.4" stroke-dashoffset="1.7"/><line x1="223.9" y1="446.2" x2="273.1" y2="446.2" stroke="#fff" stroke-opacity="0.85" stroke-width="2" stroke-dasharray="2 4.1"/><line x1="310.6" y1="446.0" x2="331.6" y2="446.0" stroke="#f00000" stroke-width="1.9"/><line x1="295.6" y1="449.1" x2="346.6" y2="449.1" stroke="#fff" stroke-opacity="0.85" stroke-width="2.2" stroke-dasharray="9.5 2.4" stroke-dashoffset="3.1"/><line x1="297.3" y1="446.2" x2="344.9" y2="446.2" stroke="#fff" stroke-opacity="0.85" stroke-width="2" stroke-dasharray="2 4.1"/><line x1="383.2" y1="446.0" x2="404.2" y2="446.0" stroke="#f00000" stroke-width="1.9"/><line x1="370.6" y1="448.7" x2="416.8" y2="448.7" stroke="#fff" stroke-opacity="0.85" stroke-width="2.2" stroke-dasharray="9.5 2.4" stroke-dashoffset="-0.5"/><line x1="373.7" y1="446.2" x2="413.7" y2="446.2" stroke="#fff" stroke-opacity="0.85" stroke-width="2" stroke-dasharray="2 4.1"/><line x1="455.8" y1="446.0" x2="476.8" y2="446.0" stroke="#f00000" stroke-width="1.9"/><line x1="446.2" y1="447.6" x2="486.4" y2="447.6" stroke="#fff" stroke-opacity="0.85" stroke-width="2.2" stroke-dasharray="9.5 2.4" stroke-dashoffset="2.5"/><line x1="446.8" y1="447.0" x2="485.8" y2="447.0" stroke="#fff" stroke-opacity="0.85" stroke-width="2" stroke-dasharray="2 4.1"/>
<rect x="53.0" y="332.1" width="463.5" height="170.89999999999998" fill="none" stroke="#6e6e6e" stroke-width="1.2"/>
<line x1="48.4" y1="503.00" x2="53.0" y2="503.00" stroke="#6e6e6e" stroke-width="1.2"/>
<text x="45.4" y="508.4" text-anchor="end" font-size="14.6">1.5</text>
<line x1="48.4" y1="484.01" x2="53.0" y2="484.01" stroke="#6e6e6e" stroke-width="1.2"/>
<text x="45.4" y="489.4" text-anchor="end" font-size="14.6">2.0</text>
<line x1="48.4" y1="465.02" x2="53.0" y2="465.02" stroke="#6e6e6e" stroke-width="1.2"/>
<text x="45.4" y="470.4" text-anchor="end" font-size="14.6">2.5</text>
<line x1="48.4" y1="446.03" x2="53.0" y2="446.03" stroke="#6e6e6e" stroke-width="1.2"/>
<text x="45.4" y="451.4" text-anchor="end" font-size="14.6">3.0</text>
<line x1="48.4" y1="427.04" x2="53.0" y2="427.04" stroke="#6e6e6e" stroke-width="1.2"/>
<text x="45.4" y="432.4" text-anchor="end" font-size="14.6">3.5</text>
<line x1="48.4" y1="408.06" x2="53.0" y2="408.06" stroke="#6e6e6e" stroke-width="1.2"/>
<text x="45.4" y="413.5" text-anchor="end" font-size="14.6">4.0</text>
<line x1="48.4" y1="389.07" x2="53.0" y2="389.07" stroke="#6e6e6e" stroke-width="1.2"/>
<text x="45.4" y="394.5" text-anchor="end" font-size="14.6">4.5</text>
<line x1="48.4" y1="370.08" x2="53.0" y2="370.08" stroke="#6e6e6e" stroke-width="1.2"/>
<text x="45.4" y="375.5" text-anchor="end" font-size="14.6">5.0</text>
<line x1="48.4" y1="351.09" x2="53.0" y2="351.09" stroke="#6e6e6e" stroke-width="1.2"/>
<text x="45.4" y="356.5" text-anchor="end" font-size="14.6">5.5</text>
<line x1="48.4" y1="332.10" x2="53.0" y2="332.10" stroke="#6e6e6e" stroke-width="1.2"/>
<text x="45.4" y="337.5" text-anchor="end" font-size="14.6">6.0</text>
<g class="yl" transform="translate(19.0,433.2) rotate(-90)" font-family='"Liberation Serif","DejaVu Serif",serif'><text x="0" y="0" transform="scale(1.12,1)" font-size="20.5">Δ</text><text x="15.6" y="-8.8" font-size="11.5" fill="#222" letter-spacing="0.9">(<tspan font-style="italic" font-size="10.3">E</tspan>)</text></g>
<line x1="108.75" y1="567.2" x2="108.75" y2="738.35" stroke="#e3e3e3" stroke-width="0.9"/>
<line x1="196.62" y1="567.2" x2="196.62" y2="738.35" stroke="#e3e3e3" stroke-width="0.9"/>
<line x1="284.50" y1="567.2" x2="284.50" y2="738.35" stroke="#e3e3e3" stroke-width="0.9"/>
<line x1="372.38" y1="567.2" x2="372.38" y2="738.35" stroke="#e3e3e3" stroke-width="0.9"/>
<line x1="460.25" y1="567.2" x2="460.25" y2="738.35" stroke="#e3e3e3" stroke-width="0.9"/>
<line x1="53.0" y1="738.35" x2="516.5" y2="738.35" stroke="#e3e3e3" stroke-width="0.9"/>
<line x1="53.0" y1="681.30" x2="516.5" y2="681.30" stroke="#e3e3e3" stroke-width="0.9"/>
<line x1="53.0" y1="624.25" x2="516.5" y2="624.25" stroke="#e3e3e3" stroke-width="0.9"/>
<line x1="53.0" y1="567.20" x2="516.5" y2="567.20" stroke="#e3e3e3" stroke-width="0.9"/>
<g clip-path="url(#cp2)">
<path d="M108.7,639.6 L108.6,640.1 L108.6,640.6 L108.6,641.1 L108.6,641.6 L108.6,642.1 L108.6,642.6 L108.6,643.1 L108.6,643.6 L108.6,644.1 L108.5,644.6 L108.5,645.1 L108.5,645.6 L108.5,646.1 L108.5,646.6 L108.5,647.1 L108.5,647.6 L108.5,648.1 L108.4,648.6 L108.4,649.1 L108.4,649.6 L108.4,650.1 L108.4,650.6 L108.4,651.1 L108.4,651.6 L108.4,652.1 L108.3,652.6 L108.3,653.1 L108.3,653.6 L108.3,654.1 L108.3,654.6 L108.3,655.1 L108.3,655.6 L108.3,656.1 L108.3,656.6 L108.3,657.1 L108.3,657.6 L108.2,658.1 L108.2,658.6 L108.2,659.1 L108.2,659.6 L108.2,660.1 L108.2,660.6 L108.2,661.1 L108.2,661.6 L108.2,662.1 L108.2,662.6 L108.2,663.1 L108.2,663.6 L108.1,664.1 L108.1,664.6 L108.0,665.1 L107.9,665.6 L107.7,666.1 L107.5,666.6 L106.9,667.1 L106.1,667.6 L105.3,668.1 L104.6,668.6 L104.1,669.1 L104.4,669.6 L104.9,670.1 L105.2,670.6 L105.5,671.1 L105.8,671.6 L106.0,672.1 L105.8,672.6 L105.1,673.1 L104.3,673.6 L103.7,674.1 L103.1,674.6 L102.9,675.1 L103.3,675.6 L104.0,676.1 L104.5,676.6 L105.1,677.1 L105.6,677.6 L105.9,678.1 L105.9,678.6 L105.2,679.1 L104.2,679.6 L103.1,680.1 L102.2,680.6 L101.1,681.1 L100.0,681.6 L99.3,682.1 L99.3,682.6 L100.2,683.1 L101.4,683.6 L102.7,684.1 L103.8,684.6 L104.9,685.1 L105.6,685.6 L105.6,686.1 L105.1,686.6 L104.4,687.1 L103.8,687.6 L103.3,688.1 L102.8,688.6 L102.3,689.1 L101.8,689.6 L101.4,690.1 L101.0,690.6 L100.8,691.1 L101.0,691.6 L101.6,692.1 L102.2,692.6 L102.8,693.1 L103.3,693.6 L102.6,694.1 L99.6,694.6 L96.1,695.1 L92.9,695.6 L89.3,696.1 L86.8,696.6 L86.9,697.1 L89.5,697.6 L92.8,698.1 L95.1,698.6 L97.1,699.1 L98.8,699.6 L99.9,700.1 L101.0,700.6 L101.7,701.1 L101.8,701.6 L101.1,702.1 L99.8,702.6 L98.2,703.1 L96.7,703.6 L94.7,704.1 L92.3,704.6 L89.6,705.1 L85.5,705.6 L81.3,706.1 L78.4,706.6 L76.6,707.1 L75.0,707.6 L74.0,708.1 L73.7,708.6 L74.4,709.1 L76.0,709.6 L77.8,710.1 L79.7,710.6 L82.2,711.1 L84.8,711.6 L86.9,712.1 L88.0,712.6 L88.8,713.1 L90.0,713.6 L91.8,714.1 L93.9,714.6 L95.8,715.1 L97.7,715.6 L99.3,716.1 L100.3,716.6 L101.3,717.1 L101.8,717.6 L101.4,718.1 L99.8,718.6 L97.8,719.1 L96.2,719.6 L94.2,720.1 L92.6,720.6 L91.8,721.1 L92.4,721.6 L94.0,722.1 L95.9,722.6 L97.6,723.1 L99.0,723.6 L100.5,724.1 L101.9,724.6 L103.2,725.1 L104.4,725.6 L105.6,726.1 L106.6,726.6 L107.4,727.1 L108.0,727.6 L108.4,728.1 L109.1,728.1 L109.5,727.6 L110.1,727.1 L110.9,726.6 L111.9,726.1 L113.1,725.6 L114.3,725.1 L115.6,724.6 L117.0,724.1 L118.5,723.6 L119.9,723.1 L121.6,722.6 L123.5,722.1 L125.1,721.6 L125.7,721.1 L124.9,720.6 L123.3,720.1 L121.3,719.6 L119.7,719.1 L117.7,718.6 L116.1,718.1 L115.7,717.6 L116.2,717.1 L117.2,716.6 L118.2,716.1 L119.8,715.6 L121.7,715.1 L123.6,714.6 L125.7,714.1 L127.5,713.6 L128.7,713.1 L129.5,712.6 L130.6,712.1 L132.7,711.6 L135.3,711.1 L137.8,710.6 L139.7,710.1 L141.5,709.6 L143.1,709.1 L143.8,708.6 L143.5,708.1 L142.5,707.6 L140.9,707.1 L139.1,706.6 L136.2,706.1 L132.0,705.6 L127.9,705.1 L125.2,704.6 L122.8,704.1 L120.8,703.6 L119.3,703.1 L117.7,702.6 L116.4,702.1 L115.7,701.6 L115.8,701.1 L116.5,700.6 L117.6,700.1 L118.7,699.6 L120.4,699.1 L122.4,698.6 L124.7,698.1 L128.0,697.6 L130.6,697.1 L130.7,696.6 L128.2,696.1 L124.6,695.6 L121.4,695.1 L117.9,694.6 L114.9,694.1 L114.2,693.6 L114.7,693.1 L115.3,692.6 L115.9,692.1 L116.5,691.6 L116.7,691.1 L116.5,690.6 L116.1,690.1 L115.7,689.6 L115.2,689.1 L114.7,688.6 L114.2,688.1 L113.7,687.6 L113.1,687.1 L112.4,686.6 L111.9,686.1 L111.9,685.6 L112.6,685.1 L113.7,684.6 L114.8,684.1 L116.1,683.6 L117.3,683.1 L118.2,682.6 L118.2,682.1 L117.5,681.6 L116.4,681.1 L115.3,680.6 L114.4,680.1 L113.3,679.6 L112.3,679.1 L111.6,678.6 L111.6,678.1 L111.9,677.6 L112.4,677.1 L113.0,676.6 L113.5,676.1 L114.2,675.6 L114.6,675.1 L114.4,674.6 L113.8,674.1 L113.2,673.6 L112.4,673.1 L111.7,672.6 L111.5,672.1 L111.7,671.6 L112.0,671.1 L112.3,670.6 L112.6,670.1 L113.1,669.6 L113.4,669.1 L112.9,668.6 L112.2,668.1 L111.4,667.6 L110.6,667.1 L110.0,666.6 L109.8,666.1 L109.6,665.6 L109.5,665.1 L109.4,664.6 L109.4,664.1 L109.3,663.6 L109.3,663.1 L109.3,662.6 L109.3,662.1 L109.3,661.6 L109.3,661.1 L109.3,660.6 L109.3,660.1 L109.3,659.6 L109.3,659.1 L109.3,658.6 L109.3,658.1 L109.2,657.6 L109.2,657.1 L109.2,656.6 L109.2,656.1 L109.2,655.6 L109.2,655.1 L109.2,654.6 L109.2,654.1 L109.2,653.6 L109.2,653.1 L109.2,652.6 L109.1,652.1 L109.1,651.6 L109.1,651.1 L109.1,650.6 L109.1,650.1 L109.1,649.6 L109.1,649.1 L109.1,648.6 L109.0,648.1 L109.0,647.6 L109.0,647.1 L109.0,646.6 L109.0,646.1 L109.0,645.6 L109.0,645.1 L109.0,644.6 L108.9,644.1 L108.9,643.6 L108.9,643.1 L108.9,642.6 L108.9,642.1 L108.9,641.6 L108.9,641.1 L108.9,640.6 L108.9,640.1 L108.8,639.6Z" fill="#7143E0"/>
<path d="M284.3,625.0 L284.2,625.5 L284.1,626.0 L284.1,626.5 L284.1,627.0 L284.0,627.5 L284.0,628.0 L283.9,628.5 L283.9,629.0 L283.9,629.5 L283.9,630.0 L283.9,630.5 L283.8,631.0 L283.8,631.5 L283.8,632.0 L283.8,632.5 L283.8,633.0 L283.7,633.5 L283.7,634.0 L283.7,634.5 L283.7,635.0 L283.7,635.5 L283.7,636.0 L283.6,636.5 L283.6,637.0 L283.6,637.5 L283.6,638.0 L283.5,638.5 L283.5,639.0 L283.4,639.5 L283.4,640.0 L283.4,640.5 L283.3,641.0 L283.3,641.5 L283.2,642.0 L283.2,642.5 L283.1,643.0 L283.1,643.5 L283.0,644.0 L283.0,644.5 L282.9,645.0 L282.8,645.5 L282.7,646.0 L282.6,646.5 L282.4,647.0 L282.2,647.5 L281.8,648.0 L281.4,648.5 L281.0,649.0 L280.5,649.5 L280.1,650.0 L279.7,650.5 L279.3,651.0 L279.0,651.5 L278.7,652.0 L278.4,652.5 L278.1,653.0 L277.9,653.5 L277.6,654.0 L277.4,654.5 L277.3,655.0 L277.1,655.5 L277.0,656.0 L276.9,656.5 L276.8,657.0 L276.7,657.5 L276.7,658.0 L276.5,658.5 L276.4,659.0 L276.2,659.5 L276.0,660.0 L275.7,660.5 L275.4,661.0 L275.0,661.5 L274.6,662.0 L274.2,662.5 L273.8,663.0 L273.2,663.5 L272.5,664.0 L271.7,664.5 L270.9,665.0 L270.1,665.5 L269.6,666.0 L269.2,666.5 L269.0,667.0 L268.9,667.5 L268.8,668.0 L268.8,668.5 L268.7,669.0 L268.7,669.5 L268.7,670.0 L268.9,670.5 L269.2,671.0 L269.6,671.5 L269.9,672.0 L270.3,672.5 L270.7,673.0 L271.0,673.5 L271.3,674.0 L271.5,674.5 L271.8,675.0 L272.1,675.5 L272.3,676.0 L272.6,676.5 L272.8,677.0 L273.0,677.5 L273.2,678.0 L273.4,678.5 L273.5,679.0 L273.7,679.5 L273.9,680.0 L274.0,680.5 L274.2,681.0 L274.3,681.5 L274.4,682.0 L274.5,682.5 L274.5,683.0 L274.5,683.5 L274.4,684.0 L274.3,684.5 L274.2,685.0 L274.1,685.5 L273.9,686.0 L273.7,686.5 L273.5,687.0 L273.2,687.5 L272.9,688.0 L272.2,688.5 L271.1,689.0 L269.7,689.5 L268.2,690.0 L266.8,690.5 L265.5,691.0 L264.4,691.5 L263.2,692.0 L262.1,692.5 L261.0,693.0 L260.0,693.5 L259.0,694.0 L257.8,694.5 L256.8,695.0 L255.9,695.5 L255.4,696.0 L255.3,696.5 L255.5,697.0 L255.8,697.5 L256.2,698.0 L256.8,698.5 L257.5,699.0 L258.0,699.5 L258.2,700.0 L257.9,700.5 L257.2,701.0 L256.2,701.5 L255.1,702.0 L254.0,702.5 L252.6,703.0 L251.1,703.5 L250.0,704.0 L250.3,704.5 L252.0,705.0 L254.1,705.5 L255.8,706.0 L257.5,706.5 L259.2,707.0 L260.9,707.5 L262.8,708.0 L264.8,708.5 L266.6,709.0 L268.1,709.5 L269.1,710.0 L269.7,710.5 L270.2,711.0 L270.6,711.5 L271.0,712.0 L271.5,712.5 L272.2,713.0 L273.2,713.5 L274.6,714.0 L276.2,714.5 L277.7,715.0 L278.9,715.5 L280.3,716.0 L281.6,716.5 L282.7,717.0 L283.4,717.5 L283.6,718.0 L283.7,718.5 L283.7,719.0 L283.8,719.5 L283.9,720.0 L283.9,720.5 L284.0,721.0 L284.0,721.5 L284.1,722.0 L284.1,722.5 L284.1,723.0 L284.1,723.5 L284.2,724.0 L284.2,724.5 L284.2,725.0 L284.2,725.5 L284.2,726.0 L284.2,726.5 L284.2,727.0 L284.2,727.5 L284.2,728.0 L284.2,728.5 L284.3,729.0 L284.3,729.5 L284.3,730.0 L284.3,730.5 L284.3,731.0 L284.3,731.5 L284.3,732.0 L284.3,732.5 L284.3,733.0 L284.3,733.5 L284.3,734.0 L284.3,734.5 L284.3,735.0 L284.3,735.5 L284.3,736.0 L284.3,736.5 L284.3,737.0 L284.7,737.0 L284.7,736.5 L284.7,736.0 L284.7,735.5 L284.7,735.0 L284.7,734.5 L284.7,734.0 L284.7,733.5 L284.7,733.0 L284.7,732.5 L284.7,732.0 L284.7,731.5 L284.7,731.0 L284.7,730.5 L284.7,730.0 L284.7,729.5 L284.7,729.0 L284.8,728.5 L284.8,728.0 L284.8,727.5 L284.8,727.0 L284.8,726.5 L284.8,726.0 L284.8,725.5 L284.8,725.0 L284.8,724.5 L284.8,724.0 L284.9,723.5 L284.9,723.0 L284.9,722.5 L284.9,722.0 L285.0,721.5 L285.0,721.0 L285.1,720.5 L285.1,720.0 L285.2,719.5 L285.3,719.0 L285.3,718.5 L285.4,718.0 L285.6,717.5 L286.3,717.0 L287.4,716.5 L288.7,716.0 L290.1,715.5 L291.3,715.0 L292.8,714.5 L294.4,714.0 L295.8,713.5 L296.8,713.0 L297.5,712.5 L298.0,712.0 L298.4,711.5 L298.8,711.0 L299.3,710.5 L299.9,710.0 L300.9,709.5 L302.4,709.0 L304.2,708.5 L306.2,708.0 L308.1,707.5 L309.8,707.0 L311.5,706.5 L313.2,706.0 L314.9,705.5 L317.0,705.0 L318.7,704.5 L319.0,704.0 L317.9,703.5 L316.4,703.0 L315.0,702.5 L313.9,702.0 L312.8,701.5 L311.8,701.0 L311.1,700.5 L310.8,700.0 L311.0,699.5 L311.5,699.0 L312.2,698.5 L312.8,698.0 L313.2,697.5 L313.5,697.0 L313.7,696.5 L313.6,696.0 L313.1,695.5 L312.2,695.0 L311.2,694.5 L310.0,694.0 L309.0,693.5 L308.0,693.0 L306.9,692.5 L305.8,692.0 L304.6,691.5 L303.5,691.0 L302.2,690.5 L300.8,690.0 L299.3,689.5 L297.9,689.0 L296.8,688.5 L296.1,688.0 L295.8,687.5 L295.5,687.0 L295.3,686.5 L295.1,686.0 L294.9,685.5 L294.8,685.0 L294.7,684.5 L294.6,684.0 L294.5,683.5 L294.5,683.0 L294.5,682.5 L294.6,682.0 L294.7,681.5 L294.8,681.0 L295.0,680.5 L295.1,680.0 L295.3,679.5 L295.5,679.0 L295.6,678.5 L295.8,678.0 L296.0,677.5 L296.2,677.0 L296.4,676.5 L296.7,676.0 L296.9,675.5 L297.2,675.0 L297.5,674.5 L297.7,674.0 L298.0,673.5 L298.3,673.0 L298.7,672.5 L299.1,672.0 L299.4,671.5 L299.8,671.0 L300.1,670.5 L300.3,670.0 L300.3,669.5 L300.3,669.0 L300.2,668.5 L300.2,668.0 L300.1,667.5 L300.0,667.0 L299.8,666.5 L299.4,666.0 L298.9,665.5 L298.1,665.0 L297.3,664.5 L296.5,664.0 L295.8,663.5 L295.2,663.0 L294.8,662.5 L294.4,662.0 L294.0,661.5 L293.6,661.0 L293.3,660.5 L293.0,660.0 L292.8,659.5 L292.6,659.0 L292.5,658.5 L292.3,658.0 L292.3,657.5 L292.2,657.0 L292.1,656.5 L292.0,656.0 L291.9,655.5 L291.7,655.0 L291.6,654.5 L291.4,654.0 L291.1,653.5 L290.9,653.0 L290.6,652.5 L290.3,652.0 L290.0,651.5 L289.7,651.0 L289.3,650.5 L288.9,650.0 L288.5,649.5 L288.0,649.0 L287.6,648.5 L287.2,648.0 L286.8,647.5 L286.6,647.0 L286.4,646.5 L286.3,646.0 L286.2,645.5 L286.1,645.0 L286.0,644.5 L286.0,644.0 L285.9,643.5 L285.9,643.0 L285.8,642.5 L285.8,642.0 L285.7,641.5 L285.7,641.0 L285.6,640.5 L285.6,640.0 L285.6,639.5 L285.5,639.0 L285.5,638.5 L285.4,638.0 L285.4,637.5 L285.4,637.0 L285.4,636.5 L285.3,636.0 L285.3,635.5 L285.3,635.0 L285.3,634.5 L285.3,634.0 L285.3,633.5 L285.2,633.0 L285.2,632.5 L285.2,632.0 L285.2,631.5 L285.2,631.0 L285.1,630.5 L285.1,630.0 L285.1,629.5 L285.1,629.0 L285.1,628.5 L285.0,628.0 L285.0,627.5 L284.9,627.0 L284.9,626.5 L284.9,626.0 L284.8,625.5 L284.7,625.0Z" fill="#191E44"/>
<path d="M460.1,625.0 L460.0,625.5 L460.0,626.0 L459.9,626.5 L459.9,627.0 L459.9,627.5 L459.8,628.0 L459.8,628.5 L459.8,629.0 L459.7,629.5 L459.7,630.0 L459.6,630.5 L459.6,631.0 L459.6,631.5 L459.5,632.0 L459.5,632.5 L459.4,633.0 L459.4,633.5 L459.4,634.0 L459.3,634.5 L459.2,635.0 L459.2,635.5 L459.1,636.0 L459.1,636.5 L459.0,637.0 L458.9,637.5 L458.8,638.0 L458.8,638.5 L458.7,639.0 L458.6,639.5 L458.5,640.0 L458.4,640.5 L458.3,641.0 L458.2,641.5 L458.1,642.0 L458.0,642.5 L457.9,643.0 L457.8,643.5 L457.6,644.0 L457.5,644.5 L457.3,645.0 L457.2,645.5 L457.0,646.0 L456.8,646.5 L456.7,647.0 L456.5,647.5 L456.3,648.0 L456.1,648.5 L455.9,649.0 L455.8,649.5 L455.6,650.0 L455.4,650.5 L455.2,651.0 L455.1,651.5 L454.9,652.0 L454.8,652.5 L454.6,653.0 L454.4,653.5 L454.3,654.0 L454.1,654.5 L453.9,655.0 L453.7,655.5 L453.5,656.0 L453.3,656.5 L453.0,657.0 L452.7,657.5 L452.4,658.0 L452.0,658.5 L451.5,659.0 L451.1,659.5 L450.6,660.0 L450.1,660.5 L449.6,661.0 L449.1,661.5 L448.7,662.0 L448.2,662.5 L447.7,663.0 L447.2,663.5 L446.7,664.0 L446.2,664.5 L445.7,665.0 L445.2,665.5 L444.9,666.0 L444.6,666.5 L444.3,667.0 L444.1,667.5 L443.8,668.0 L443.6,668.5 L443.4,669.0 L443.2,669.5 L443.1,670.0 L443.0,670.5 L443.0,671.0 L443.0,671.5 L443.1,672.0 L443.3,672.5 L443.5,673.0 L443.8,673.5 L444.1,674.0 L444.4,674.5 L444.6,675.0 L444.9,675.5 L445.2,676.0 L445.5,676.5 L445.8,677.0 L446.1,677.5 L446.4,678.0 L446.7,678.5 L446.9,679.0 L447.1,679.5 L447.1,680.0 L447.1,680.5 L447.1,681.0 L447.1,681.5 L447.1,682.0 L447.1,682.5 L447.0,683.0 L447.0,683.5 L446.9,684.0 L446.8,684.5 L446.8,685.0 L446.6,685.5 L446.2,686.0 L445.7,686.5 L445.1,687.0 L444.5,687.5 L443.8,688.0 L443.0,688.5 L442.1,689.0 L441.0,689.5 L439.8,690.0 L438.7,690.5 L437.6,691.0 L436.6,691.5 L435.7,692.0 L434.9,692.5 L434.1,693.0 L433.3,693.5 L432.6,694.0 L431.9,694.5 L431.2,695.0 L430.6,695.5 L430.0,696.0 L429.4,696.5 L428.9,697.0 L428.4,697.5 L427.8,698.0 L427.3,698.5 L426.8,699.0 L426.4,699.5 L426.1,700.0 L425.8,700.5 L425.7,701.0 L425.7,701.5 L425.8,702.0 L426.0,702.5 L426.3,703.0 L426.8,703.5 L427.2,704.0 L427.8,704.5 L428.3,705.0 L428.9,705.5 L429.8,706.0 L430.9,706.5 L432.3,707.0 L433.7,707.5 L435.2,708.0 L436.7,708.5 L438.3,709.0 L439.7,709.5 L441.1,710.0 L442.3,710.5 L443.6,711.0 L444.9,711.5 L446.2,712.0 L447.4,712.5 L448.6,713.0 L449.8,713.5 L450.9,714.0 L452.0,714.5 L452.9,715.0 L453.9,715.5 L455.0,716.0 L455.9,716.5 L456.9,717.0 L457.7,717.5 L458.3,718.0 L458.7,718.5 L458.8,719.0 L459.0,719.5 L459.1,720.0 L459.2,720.5 L459.4,721.0 L459.4,721.5 L459.5,722.0 L459.6,722.5 L459.7,723.0 L459.7,723.5 L459.8,724.0 L459.8,724.5 L459.8,725.0 L459.9,725.5 L459.9,726.0 L459.9,726.5 L459.9,727.0 L459.9,727.5 L459.9,728.0 L459.9,728.5 L460.0,729.0 L460.0,729.5 L460.0,730.0 L460.0,730.5 L460.0,731.0 L460.0,731.5 L460.0,732.0 L460.0,732.5 L460.0,733.0 L460.0,733.5 L460.0,734.0 L460.0,734.5 L460.0,735.0 L460.0,735.5 L460.0,736.0 L460.0,736.5 L460.1,737.0 L460.4,737.0 L460.5,736.5 L460.5,736.0 L460.5,735.5 L460.5,735.0 L460.5,734.5 L460.5,734.0 L460.5,733.5 L460.5,733.0 L460.5,732.5 L460.5,732.0 L460.5,731.5 L460.5,731.0 L460.5,730.5 L460.5,730.0 L460.5,729.5 L460.5,729.0 L460.6,728.5 L460.6,728.0 L460.6,727.5 L460.6,727.0 L460.6,726.5 L460.6,726.0 L460.6,725.5 L460.7,725.0 L460.7,724.5 L460.7,724.0 L460.8,723.5 L460.8,723.0 L460.9,722.5 L461.0,722.0 L461.1,721.5 L461.1,721.0 L461.3,720.5 L461.4,720.0 L461.5,719.5 L461.7,719.0 L461.8,718.5 L462.2,718.0 L462.8,717.5 L463.6,717.0 L464.6,716.5 L465.5,716.0 L466.6,715.5 L467.6,715.0 L468.5,714.5 L469.6,714.0 L470.7,713.5 L471.9,713.0 L473.1,712.5 L474.3,712.0 L475.6,711.5 L476.9,711.0 L478.2,710.5 L479.4,710.0 L480.8,709.5 L482.2,709.0 L483.8,708.5 L485.3,708.0 L486.8,707.5 L488.2,707.0 L489.6,706.5 L490.7,706.0 L491.6,705.5 L492.2,705.0 L492.7,704.5 L493.3,704.0 L493.7,703.5 L494.2,703.0 L494.5,702.5 L494.7,702.0 L494.8,701.5 L494.8,701.0 L494.7,700.5 L494.4,700.0 L494.1,699.5 L493.7,699.0 L493.2,698.5 L492.7,698.0 L492.1,697.5 L491.6,697.0 L491.1,696.5 L490.5,696.0 L489.9,695.5 L489.3,695.0 L488.6,694.5 L487.9,694.0 L487.2,693.5 L486.4,693.0 L485.6,692.5 L484.8,692.0 L483.9,691.5 L482.9,691.0 L481.8,690.5 L480.7,690.0 L479.5,689.5 L478.4,689.0 L477.5,688.5 L476.7,688.0 L476.0,687.5 L475.4,687.0 L474.8,686.5 L474.3,686.0 L473.9,685.5 L473.8,685.0 L473.7,684.5 L473.6,684.0 L473.5,683.5 L473.5,683.0 L473.4,682.5 L473.4,682.0 L473.4,681.5 L473.4,681.0 L473.4,680.5 L473.4,680.0 L473.4,679.5 L473.6,679.0 L473.8,678.5 L474.1,678.0 L474.4,677.5 L474.7,677.0 L475.0,676.5 L475.3,676.0 L475.6,675.5 L475.9,675.0 L476.1,674.5 L476.4,674.0 L476.7,673.5 L477.0,673.0 L477.2,672.5 L477.4,672.0 L477.5,671.5 L477.5,671.0 L477.5,670.5 L477.4,670.0 L477.3,669.5 L477.1,669.0 L476.9,668.5 L476.7,668.0 L476.4,667.5 L476.2,667.0 L475.9,666.5 L475.6,666.0 L475.3,665.5 L474.8,665.0 L474.3,664.5 L473.8,664.0 L473.3,663.5 L472.8,663.0 L472.3,662.5 L471.8,662.0 L471.4,661.5 L470.9,661.0 L470.4,660.5 L469.9,660.0 L469.4,659.5 L469.0,659.0 L468.5,658.5 L468.1,658.0 L467.8,657.5 L467.5,657.0 L467.2,656.5 L467.0,656.0 L466.8,655.5 L466.6,655.0 L466.4,654.5 L466.2,654.0 L466.1,653.5 L465.9,653.0 L465.7,652.5 L465.6,652.0 L465.4,651.5 L465.3,651.0 L465.1,650.5 L464.9,650.0 L464.7,649.5 L464.6,649.0 L464.4,648.5 L464.2,648.0 L464.0,647.5 L463.8,647.0 L463.7,646.5 L463.5,646.0 L463.3,645.5 L463.2,645.0 L463.0,644.5 L462.9,644.0 L462.7,643.5 L462.6,643.0 L462.5,642.5 L462.4,642.0 L462.3,641.5 L462.2,641.0 L462.1,640.5 L462.0,640.0 L461.9,639.5 L461.8,639.0 L461.7,638.5 L461.7,638.0 L461.6,637.5 L461.5,637.0 L461.4,636.5 L461.4,636.0 L461.3,635.5 L461.2,635.0 L461.2,634.5 L461.1,634.0 L461.1,633.5 L461.1,633.0 L461.0,632.5 L461.0,632.0 L460.9,631.5 L460.9,631.0 L460.9,630.5 L460.8,630.0 L460.8,629.5 L460.7,629.0 L460.7,628.5 L460.7,628.0 L460.6,627.5 L460.6,627.0 L460.6,626.5 L460.5,626.0 L460.5,625.5 L460.4,625.0Z" fill="#0A9A84"/>
</g>
<line x1="95.8" y1="624.2" x2="121.8" y2="624.2" stroke="#f00000" stroke-width="1.9"/><line x1="98.7" y1="703.0" x2="118.8" y2="703.0" stroke="#fff" stroke-opacity="0.85" stroke-width="2.2" stroke-dasharray="9.5 2.4" stroke-dashoffset="0.6"/><line x1="271.5" y1="624.2" x2="297.5" y2="624.2" stroke="#f00000" stroke-width="1.9"/><line x1="272.8" y1="688.1" x2="296.2" y2="688.1" stroke="#fff" stroke-opacity="0.85" stroke-width="2.2" stroke-dasharray="9.5 2.4" stroke-dashoffset="-1.0"/><line x1="273.0" y1="687.9" x2="296.0" y2="687.9" stroke="#fff" stroke-opacity="0.85" stroke-width="2" stroke-dasharray="2 4.1"/><line x1="447.2" y1="624.2" x2="473.2" y2="624.2" stroke="#f00000" stroke-width="1.9"/><line x1="443.6" y1="688.1" x2="476.9" y2="688.1" stroke="#fff" stroke-opacity="0.85" stroke-width="2.2" stroke-dasharray="9.5 2.4" stroke-dashoffset="0.0"/><line x1="443.9" y1="687.9" x2="476.6" y2="687.9" stroke="#fff" stroke-opacity="0.85" stroke-width="2" stroke-dasharray="2 4.1"/>
<rect x="53.0" y="567.2" width="463.5" height="171.14999999999998" fill="none" stroke="#6e6e6e" stroke-width="1.2"/>
<line x1="48.4" y1="738.35" x2="53.0" y2="738.35" stroke="#6e6e6e" stroke-width="1.2"/>
<text x="45.4" y="743.8" text-anchor="end" font-size="14.6">1</text>
<line x1="48.4" y1="681.30" x2="53.0" y2="681.30" stroke="#6e6e6e" stroke-width="1.2"/>
<text x="45.4" y="686.7" text-anchor="end" font-size="14.6">2</text>
<line x1="48.4" y1="624.25" x2="53.0" y2="624.25" stroke="#6e6e6e" stroke-width="1.2"/>
<text x="45.4" y="629.6" text-anchor="end" font-size="14.6">3</text>
<line x1="48.4" y1="567.20" x2="53.0" y2="567.20" stroke="#6e6e6e" stroke-width="1.2"/>
<text x="45.4" y="572.6" text-anchor="end" font-size="14.6">4</text>
<g class="yl" transform="translate(31.0,668.4) rotate(-90)" font-family='"Liberation Serif","DejaVu Serif",serif'><text x="0" y="0" transform="scale(1.12,1)" font-size="20.5">Δ</text><text x="15.6" y="-8.8" font-size="11.5" fill="#222" letter-spacing="0.9">(<tspan font-style="italic" font-size="10.3">E</tspan>)</text></g>
<line x1="108.75" y1="738.35" x2="108.75" y2="742.95" stroke="#6e6e6e" stroke-width="1.2"/>
<text x="108.75" y="758.1" text-anchor="middle" font-size="14.6">1</text>
<line x1="196.62" y1="738.35" x2="196.62" y2="742.95" stroke="#6e6e6e" stroke-width="1.2"/>
<text x="196.62" y="758.1" text-anchor="middle" font-size="14.6">2</text>
<line x1="284.50" y1="738.35" x2="284.50" y2="742.95" stroke="#6e6e6e" stroke-width="1.2"/>
<text x="284.50" y="758.1" text-anchor="middle" font-size="14.6">3</text>
<line x1="372.38" y1="738.35" x2="372.38" y2="742.95" stroke="#6e6e6e" stroke-width="1.2"/>
<text x="372.38" y="758.1" text-anchor="middle" font-size="14.6">4</text>
<line x1="460.25" y1="738.35" x2="460.25" y2="742.95" stroke="#6e6e6e" stroke-width="1.2"/>
<text x="460.25" y="758.1" text-anchor="middle" font-size="14.6">5</text>
<text x="284.5" y="781.5" text-anchor="middle" font-size="19">dataset</text>
<rect x="59.3" y="84.7" width="285.9" height="43.89999999999999" fill="#fff" stroke="#6e6e6e" stroke-width="1.2"/><rect x="66.5" y="91.7" width="12.6" height="12.6" fill="#7143E0"/><text x="82.4" y="103.0" font-size="13.5">6.33 [2%]</text><rect x="66.5" y="109.4" width="12.6" height="12.6" fill="#AF9327"/><text x="82.4" y="120.7" font-size="13.5">6.56 [12%]</text><rect x="158.4" y="91.7" width="12.6" height="12.6" fill="#191E44"/><text x="174.4" y="103.0" font-size="13.5">6.34 [2%]</text><rect x="158.4" y="109.4" width="12.6" height="12.6" fill="#791457"/><text x="174.4" y="120.7" font-size="13.5">7.76 [39%]</text><rect x="249.7" y="91.7" width="12.6" height="12.6" fill="#0A9A84"/><text x="265.59999999999997" y="103.0" font-size="13.5">6.42 [7%]</text><rect x="249.7" y="109.4" width="12.6" height="12.6" fill="#6C768C"/><text x="265.59999999999997" y="120.7" font-size="13.5">10.49 [52%]</text><rect x="59.3" y="338.8" width="278.8" height="44.099999999999966" fill="#fff" stroke="#6e6e6e" stroke-width="1.2"/><rect x="66.4" y="345.8" width="12.6" height="12.6" fill="#7143E0"/><text x="82.80000000000001" y="357.1" font-size="13.5">2.54 [11%]</text><rect x="66.4" y="363.5" width="12.6" height="12.6" fill="#AF9327"/><text x="82.80000000000001" y="374.8" font-size="13.5">2.92 [37%]</text><rect x="158.4" y="345.8" width="12.6" height="12.6" fill="#191E44"/><text x="175.5" y="357.1" font-size="13.5">2.8 [27%]</text><rect x="158.4" y="363.5" width="12.6" height="12.6" fill="#791457"/><text x="175.5" y="374.8" font-size="13.5">2.93 [36%]</text><rect x="249.7" y="345.8" width="12.6" height="12.6" fill="#0A9A84"/><text x="266.4" y="357.1" font-size="13.5">2.9 [35%]</text><rect x="249.7" y="363.5" width="12.6" height="12.6" fill="#6C768C"/><text x="266.4" y="374.8" font-size="13.5">2.96 [39%]</text><rect x="59.3" y="574.3" width="249.7" height="26.200000000000045" fill="#fff" stroke="#6e6e6e" stroke-width="1.2"/><rect x="66.6" y="581.3" width="12.6" height="12.6" fill="#7143E0"/><text x="83.30000000000001" y="592.6" font-size="13.5">1.62 [0%]</text><rect x="150.4" y="581.3" width="12.6" height="12.6" fill="#191E44"/><text x="167.3" y="592.6" font-size="13.5">1.88 [0%]</text><rect x="234.6" y="581.3" width="12.6" height="12.6" fill="#0A9A84"/><text x="251.3" y="592.6" font-size="13.5">1.88 [0%]</text></svg></body></html>
